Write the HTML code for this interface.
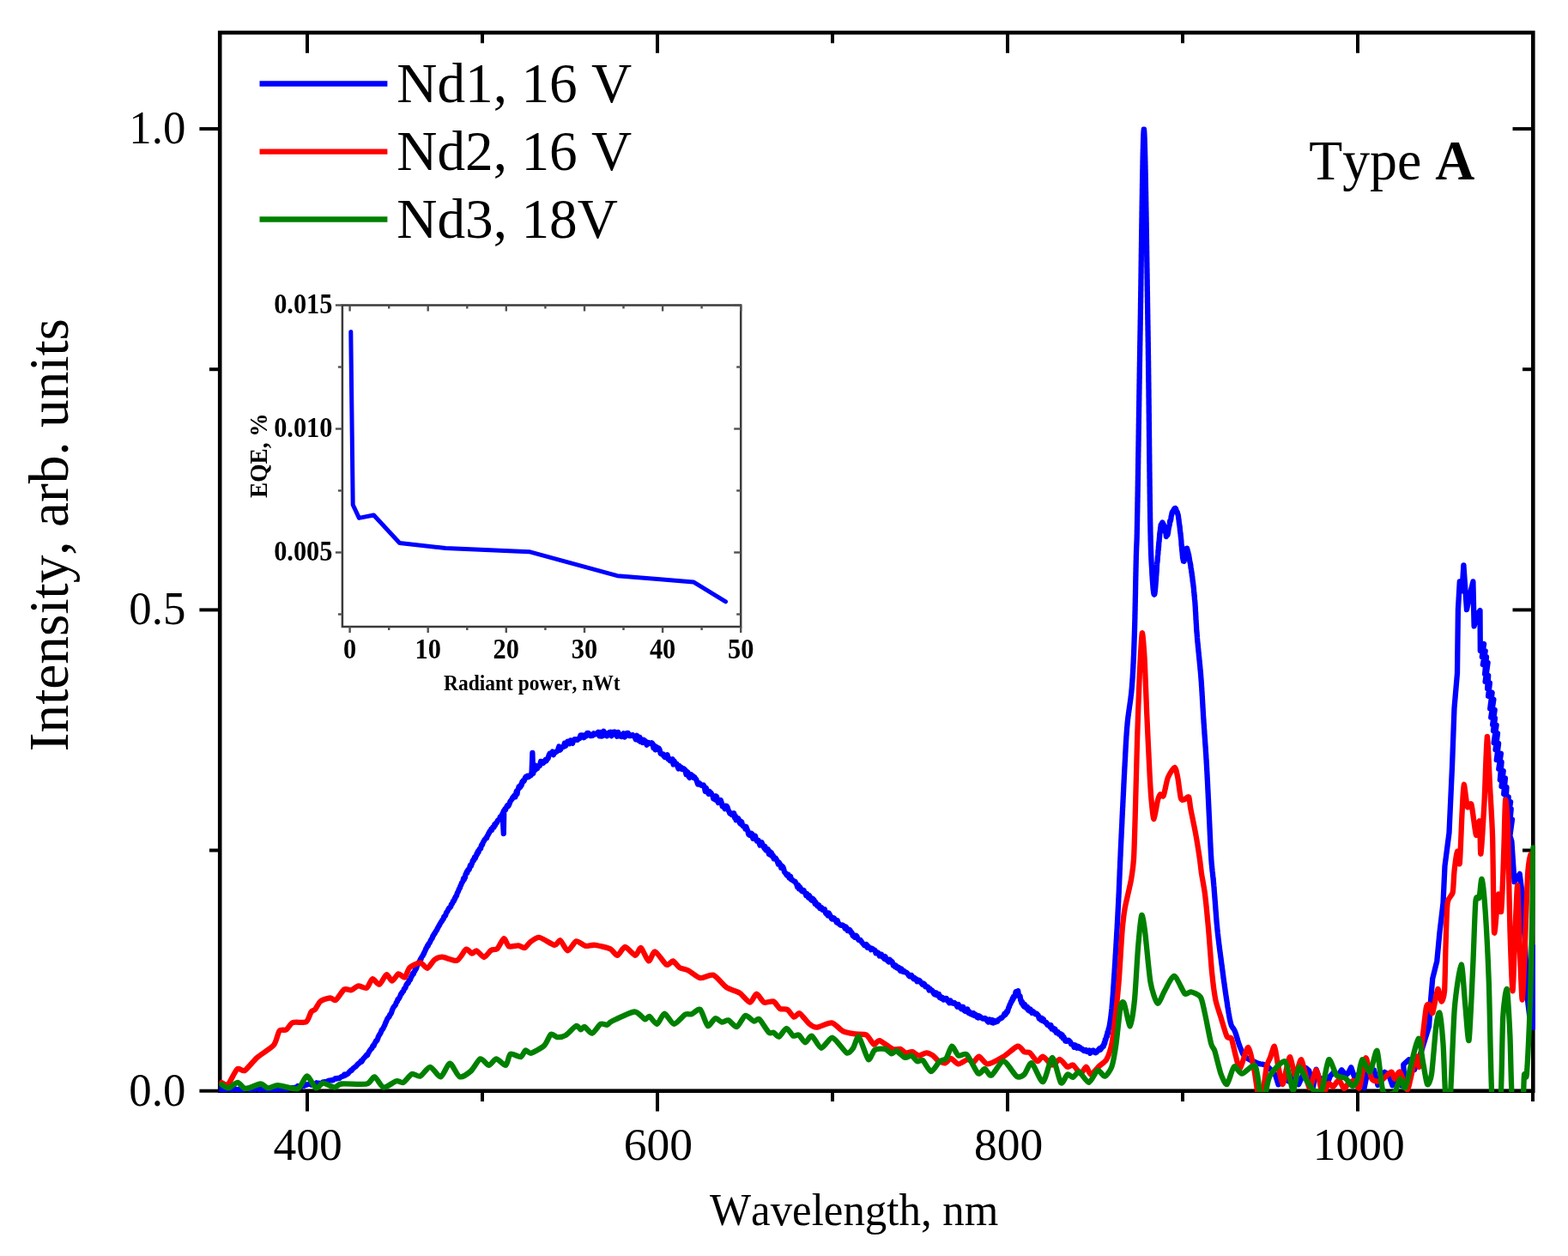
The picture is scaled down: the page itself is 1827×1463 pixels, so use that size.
<!DOCTYPE html>
<html lang="en"><head><meta charset="utf-8"><title>Electroluminescence spectra, Type A</title>
<style>html,body{margin:0;padding:0;background:#fff}svg{display:block}text{font-family:"Liberation Serif","Times New Roman",serif;fill:#000;font-kerning:none}</style></head><body>
<svg width="1827" height="1463" viewBox="0 0 1827 1463">
<rect width="1827" height="1463" fill="#fff"/>
<defs><filter id="soft" x="0" y="0" width="1827" height="1463" filterUnits="userSpaceOnUse" color-interpolation-filters="sRGB"><feGaussianBlur stdDeviation="0.6"/></filter><clipPath id="cp"><rect x="255.2" y="38.0" width="1533.7" height="1234.1"/></clipPath></defs>
<g filter="url(#soft)">
<rect width="1827" height="1463" fill="#fff"/>
<g stroke="#000" stroke-width="4.6" fill="none" stroke-linecap="butt">
<rect x="256.2" y="38.0" width="1530.1" height="1232.7"/>
</g>
<g stroke="#000" stroke-width="4.0" fill="none" stroke-linecap="butt">
<path d="M358.0,1270.7v23.8"/>
<path d="M358.0,38.0v23.8"/>
<path d="M562.0,1270.7v12.3"/>
<path d="M562.0,38.0v12.3"/>
<path d="M766.0,1270.7v23.8"/>
<path d="M766.0,38.0v23.8"/>
<path d="M970.0,1270.7v12.3"/>
<path d="M970.0,38.0v12.3"/>
<path d="M1174.0,1270.7v23.8"/>
<path d="M1174.0,38.0v23.8"/>
<path d="M1378.0,1270.7v12.3"/>
<path d="M1378.0,38.0v12.3"/>
<path d="M1582.0,1270.7v23.8"/>
<path d="M1582.0,38.0v23.8"/>
<path d="M1786.0,1270.7v12.3"/>
<path d="M1786.0,38.0v12.3"/>
<path d="M256.2,150.1h-23.8"/>
<path d="M1786.3,150.1h-23.8"/>
<path d="M256.2,430.2h-12.3"/>
<path d="M1786.3,430.2h-12.3"/>
<path d="M256.2,710.4h-23.8"/>
<path d="M1786.3,710.4h-23.8"/>
<path d="M256.2,990.5h-12.3"/>
<path d="M1786.3,990.5h-12.3"/>
<path d="M256.2,1270.7h-23.8"/>
</g>
<g clip-path="url(#cp)" fill="none" stroke-linejoin="round" stroke-linecap="round">
<path d="M256.6,1268.7L257.3,1268.4L258.1,1269.2L258.9,1268.2L259.8,1269.0L260.8,1268.7L261.9,1268.1L263.0,1268.9L264.1,1268.1L265.4,1268.7L266.6,1268.1L267.9,1268.1L269.3,1268.7L270.7,1269.4L272.1,1268.1L273.5,1268.2L275.0,1268.9L276.5,1269.5L278.0,1268.8L279.5,1268.5L281.0,1269.5L282.5,1267.8L284.1,1269.2L285.6,1268.2L287.1,1267.9L288.5,1267.8L290.0,1268.2L291.2,1269.1L292.3,1267.9L293.6,1268.6L294.8,1268.7L296.1,1268.2L297.3,1268.5L298.6,1267.7L300.0,1267.7L301.3,1267.9L302.6,1268.8L304.0,1268.3L305.4,1268.1L306.7,1268.6L308.1,1268.4L309.5,1268.1L310.9,1269.0L312.2,1268.8L313.6,1268.0L315.0,1268.6L316.3,1268.5L317.6,1269.1L319.0,1268.8L320.3,1268.0L321.6,1269.3L322.8,1267.7L324.1,1268.2L325.3,1268.8L326.5,1267.6L327.7,1268.2L328.8,1267.3L329.9,1268.4L331.0,1268.5L332.0,1268.1L333.6,1268.6L335.2,1267.4L336.7,1267.9L338.1,1267.6L339.5,1267.4L340.9,1266.9L342.2,1267.4L343.4,1267.4L344.6,1266.3L345.8,1266.5L347.0,1265.1L348.1,1266.1L349.2,1265.7L350.3,1266.1L351.4,1265.6L352.4,1264.4L353.5,1264.4L354.6,1264.7L355.6,1263.3L356.7,1263.9L358.2,1263.2L359.7,1262.8L361.1,1262.5L362.5,1263.6L363.9,1262.2L365.2,1262.2L366.5,1262.3L367.8,1262.9L369.0,1261.3L370.2,1261.8L371.4,1261.7L372.6,1262.1L373.8,1261.8L375.0,1261.7L376.3,1260.3L377.6,1260.3L378.9,1260.0L380.1,1260.7L381.3,1260.6L382.4,1258.9L383.6,1258.7L384.7,1258.5L385.9,1258.2L387.1,1258.3L388.3,1258.1L389.6,1257.1L390.7,1256.2L391.8,1256.5L393.0,1256.0L394.2,1255.9L395.3,1256.1L396.5,1255.1L397.7,1254.2L398.9,1253.8L400.1,1253.4L401.3,1251.6L402.5,1252.5L403.6,1251.5L404.8,1251.0L406.0,1250.0L407.0,1248.6L407.9,1247.9L408.9,1246.6L409.9,1246.8L410.9,1245.0L411.9,1244.1L412.9,1243.5L413.9,1242.6L414.9,1242.0L415.9,1240.6L416.8,1239.6L417.8,1238.9L418.8,1237.9L419.7,1237.4L420.6,1235.8L421.5,1236.4L422.4,1235.0L423.3,1233.2L424.1,1232.4L424.9,1231.7L425.8,1230.7L426.6,1229.3L427.4,1229.6L428.2,1228.9L428.9,1226.9L429.7,1225.9L430.5,1224.2L431.2,1223.2L431.9,1222.5L432.7,1221.3L433.4,1221.2L434.1,1218.9L434.9,1217.6L435.6,1218.1L436.2,1216.3L436.9,1214.6L437.4,1214.3L438.0,1212.4L438.6,1212.3L439.2,1212.1L439.7,1210.8L440.3,1209.5L440.8,1207.6L441.4,1206.7L441.9,1205.3L442.5,1205.2L443.1,1203.6L443.7,1202.9L444.3,1200.9L444.9,1199.5L445.6,1199.2L446.3,1198.2L447.0,1196.6L447.5,1195.6L448.0,1194.6L448.6,1193.5L449.1,1191.5L449.6,1191.0L450.2,1189.6L450.8,1188.0L451.3,1186.9L451.9,1186.2L452.5,1185.0L453.1,1184.7L453.7,1184.0L454.3,1181.9L454.9,1181.6L455.6,1180.5L456.2,1179.3L456.8,1177.0L457.4,1175.6L458.0,1174.4L458.6,1173.2L459.3,1172.1L459.9,1171.7L460.5,1171.0L461.1,1169.8L461.7,1168.0L462.3,1167.2L462.9,1166.4L463.5,1164.1L464.2,1163.9L464.8,1163.2L465.5,1161.8L466.1,1160.6L466.8,1159.0L467.4,1157.4L468.1,1157.4L468.8,1155.4L469.4,1155.2L470.1,1154.4L470.7,1152.3L471.4,1151.2L472.0,1151.1L472.7,1149.6L473.3,1147.5L474.0,1146.4L474.7,1145.3L475.3,1145.6L476.0,1144.3L476.6,1142.0L477.3,1142.1L477.9,1141.2L478.6,1139.5L479.2,1137.8L479.9,1137.0L480.5,1135.2L481.1,1133.9L481.7,1134.5L482.2,1132.9L482.8,1131.6L483.4,1131.2L484.0,1129.2L484.6,1128.8L485.2,1127.6L485.8,1125.4L486.3,1124.4L486.9,1123.3L487.5,1122.1L488.1,1121.6L488.7,1119.8L489.3,1119.0L489.9,1117.3L490.4,1117.6L491.0,1115.5L491.6,1114.5L492.2,1113.6L492.8,1113.1L493.4,1111.1L494.0,1110.9L494.5,1109.0L495.1,1107.9L495.7,1106.8L496.3,1104.8L496.9,1104.5L497.5,1102.9L498.1,1101.4L498.7,1101.8L499.3,1099.5L499.9,1098.9L500.6,1098.3L501.2,1096.9L501.8,1095.3L502.4,1094.6L503.0,1093.5L503.6,1092.9L504.2,1090.5L504.8,1090.3L505.4,1088.6L506.0,1087.6L506.6,1087.4L507.2,1085.8L507.8,1084.8L508.4,1084.1L509.1,1083.3L509.7,1081.4L510.3,1080.6L510.9,1079.3L511.5,1078.3L512.1,1077.5L512.7,1076.0L513.4,1075.0L514.0,1073.8L514.7,1073.5L515.3,1071.9L516.0,1071.1L516.7,1070.2L517.3,1067.8L518.0,1067.3L518.7,1066.9L519.3,1065.6L520.0,1063.2L520.7,1062.1L521.3,1061.6L522.0,1059.8L522.7,1059.0L523.3,1057.6L524.0,1057.6L524.6,1056.7L525.3,1055.8L525.9,1053.3L526.6,1053.2L527.2,1052.0L527.8,1049.9L528.5,1050.1L529.1,1049.0L529.7,1046.6L530.2,1046.8L530.8,1044.7L531.3,1043.8L531.8,1043.6L532.3,1042.2L532.9,1039.9L533.4,1039.3L533.9,1038.4L534.4,1037.0L534.9,1035.6L535.4,1034.7L535.9,1034.3L536.4,1031.9L536.9,1031.7L537.4,1030.4L537.9,1028.4L538.4,1027.8L539.0,1027.2L539.5,1025.8L540.1,1023.2L540.7,1024.8L541.3,1023.0L541.9,1022.3L542.5,1018.4L543.1,1017.6L543.8,1015.6L544.3,1016.8L544.8,1014.3L545.4,1012.9L545.9,1012.7L546.5,1013.1L547.0,1011.8L547.6,1009.0L548.2,1007.6L548.8,1008.8L549.4,1006.7L550.0,1006.0L550.6,1003.0L551.2,1001.8L551.8,1002.5L552.4,1000.6L553.0,998.4L553.7,999.9L554.3,997.8L554.9,997.2L555.6,993.9L556.2,995.0L556.9,991.5L557.5,992.8L558.1,990.4L558.8,988.9L559.4,988.5L560.1,988.5L560.7,985.4L561.3,983.9L562.0,984.0L562.6,982.0L563.2,980.6L563.9,979.7L564.5,978.3L565.1,977.7L565.7,977.0L566.4,975.9L567.1,976.1L567.8,973.5L568.5,973.0L569.2,971.0L569.9,970.4L570.6,968.3L571.4,967.9L572.1,966.1L572.8,967.2L573.5,965.6L574.2,963.5L574.9,963.3L575.6,963.6L576.3,960.1L577.0,961.2L577.7,959.0L578.4,958.2L579.1,958.2L579.8,955.8L580.5,955.2L581.2,954.7L581.9,954.5L582.7,951.6L583.4,952.0L584.1,950.6L584.8,949.4L585.5,947.7L586.8,971.0L587.2,947.7L586.2,946.4L586.9,944.5L587.6,943.7L588.3,942.4L589.0,943.4L589.8,940.8L590.5,939.4L591.3,938.0L592.0,939.2L592.8,938.1L593.5,936.4L594.3,934.0L595.1,932.7L595.8,931.7L596.6,931.1L597.3,929.0L598.1,928.7L598.9,927.0L599.6,928.0L600.4,928.3L601.1,924.6L601.8,921.7L602.5,925.0L603.2,920.0L603.9,919.2L604.6,916.1L605.3,917.4L606.0,917.0L606.6,916.2L607.2,913.5L607.8,914.4L608.4,910.6L609.0,911.3L609.5,909.5L610.7,909.7L611.8,906.1L612.8,904.7L613.7,905.3L614.5,903.9L615.3,905.1L616.0,903.9L616.7,904.5L617.4,903.1L618.1,902.8L618.8,903.0L619.6,899.2L620.4,877.0L621.0,899.2L620.4,898.0L621.3,900.9L622.1,895.0L622.9,897.6L623.7,896.3L624.4,891.8L625.2,895.7L626.0,895.2L626.9,892.8L627.9,892.5L628.9,892.0L630.1,886.9L631.4,888.1L632.2,887.4L633.0,888.7L633.8,887.8L634.7,887.2L635.6,885.0L636.6,886.1L637.6,884.0L638.6,883.3L639.6,879.7L640.6,877.7L641.7,877.5L642.7,878.0L643.8,875.6L644.9,879.2L646.0,876.7L647.0,876.4L648.1,875.6L649.2,875.1L650.2,873.2L651.3,869.6L652.3,873.7L653.3,872.7L654.5,870.5L655.6,869.9L656.8,869.9L657.9,865.6L659.1,868.9L660.2,865.3L661.4,863.6L662.5,864.0L663.7,866.2L664.8,862.4L666.0,865.0L667.1,865.8L668.3,862.3L669.4,861.1L670.6,861.1L671.7,861.8L672.9,861.8L674.0,860.4L675.2,860.2L676.5,856.3L677.8,856.3L679.1,856.6L680.3,859.1L681.6,856.2L682.9,857.5L684.2,853.8L685.5,853.9L686.7,854.9L688.0,857.1L689.3,857.0L690.6,856.8L691.9,854.3L693.1,855.5L694.4,855.1L695.7,854.9L697.0,852.7L698.3,857.2L699.6,853.0L700.9,857.6L702.1,857.2L703.4,851.7L704.7,854.3L706.0,856.4L707.3,857.3L708.6,854.2L709.9,853.1L711.2,852.8L712.5,857.2L713.7,852.9L715.0,855.2L716.3,852.6L717.6,855.0L718.9,857.7L720.2,852.9L721.5,857.2L722.8,855.5L724.1,857.9L725.3,857.0L726.6,854.3L727.9,858.5L729.2,856.3L730.5,853.8L731.8,853.9L733.1,857.1L734.4,857.1L735.6,856.6L736.9,855.9L738.2,857.5L739.5,857.8L740.8,861.3L742.0,856.7L743.1,861.6L744.3,862.6L745.4,858.7L746.6,864.0L747.7,863.2L748.9,864.9L750.0,861.7L751.2,862.8L752.3,863.4L753.5,867.7L754.6,865.8L755.8,865.0L756.9,866.1L758.1,865.8L759.2,865.1L760.4,866.1L761.5,871.3L762.7,868.7L763.7,873.3L764.7,869.9L765.7,870.7L766.7,872.9L767.7,871.7L768.7,873.6L769.7,877.9L770.7,878.3L771.7,878.7L772.7,878.5L773.7,881.0L774.6,882.0L775.6,880.5L776.6,882.4L777.6,879.3L778.6,884.2L779.6,883.4L780.6,886.1L781.6,886.3L782.6,885.0L783.6,884.4L784.6,890.5L785.6,886.5L786.6,889.3L787.6,889.4L788.6,889.9L789.6,893.3L790.6,895.5L791.6,892.0L792.6,895.1L793.6,893.8L794.6,896.1L795.5,895.9L796.5,895.3L797.5,896.1L798.5,897.1L799.5,902.1L800.5,900.5L801.5,899.6L802.5,904.5L803.5,905.9L804.5,903.4L805.5,902.4L806.5,903.6L807.5,903.8L808.4,906.1L809.4,905.4L810.3,907.1L811.3,908.1L812.2,910.8L813.2,913.6L814.1,913.6L815.1,912.4L816.0,913.3L817.0,914.8L817.9,914.8L818.9,915.4L819.8,914.7L820.8,916.8L821.7,921.8L822.7,917.7L823.6,920.8L824.6,922.4L825.5,924.7L826.5,921.7L827.4,922.9L828.4,923.6L829.4,925.4L830.3,926.5L831.3,930.4L832.2,930.6L833.2,931.5L834.1,927.3L835.1,928.1L836.0,933.0L837.0,935.0L837.9,933.3L838.9,934.8L839.8,932.1L840.8,935.3L841.7,939.3L842.7,939.6L843.6,940.6L844.6,942.2L845.5,938.7L846.5,938.8L847.4,939.9L848.4,943.1L849.3,944.9L850.3,947.4L851.1,947.0L852.0,947.4L852.8,949.0L853.6,948.0L854.4,949.4L855.2,947.2L856.0,952.6L856.8,950.2L857.6,955.2L858.5,954.5L859.3,953.3L860.1,953.2L860.9,954.9L861.7,958.1L862.5,959.4L863.3,956.8L864.2,957.5L865.0,961.2L865.9,962.5L866.7,962.3L867.6,962.3L868.5,965.6L869.4,963.0L870.3,965.7L871.3,967.7L872.2,971.7L873.0,970.6L873.8,972.9L874.7,971.3L875.5,970.7L876.4,971.6L877.3,976.8L878.2,976.1L879.1,974.6L880.0,973.8L880.9,977.5L881.9,979.5L882.8,978.9L883.7,978.8L884.7,982.1L885.6,984.6L886.6,981.3L887.5,981.1L888.5,983.8L889.4,985.2L890.3,987.7L891.3,985.7L892.2,990.2L893.1,990.7L894.0,990.2L894.9,989.4L895.8,994.8L896.7,991.8L897.5,995.7L898.4,993.1L899.2,993.9L900.0,997.5L900.9,996.7L901.8,1000.4L902.7,999.6L903.6,999.4L904.4,1000.5L905.3,1002.4L906.1,1004.4L906.9,1006.6L907.7,1004.4L908.5,1006.4L909.3,1006.8L910.1,1010.8L910.9,1008.6L911.7,1009.2L912.5,1010.3L913.3,1012.7L914.0,1015.7L914.8,1016.6L915.6,1017.0L916.4,1019.1L917.1,1019.8L917.9,1018.4L918.7,1018.8L919.5,1022.7L920.3,1022.9L921.1,1021.0L921.9,1024.5L922.8,1024.3L923.7,1025.3L924.6,1026.1L925.5,1026.5L926.5,1026.8L927.4,1028.8L928.3,1030.1L929.2,1033.4L930.1,1031.0L931.0,1035.3L931.9,1033.2L932.8,1034.7L933.8,1037.4L934.7,1038.3L935.6,1037.6L936.5,1037.0L937.4,1039.5L938.3,1040.0L939.2,1043.1L940.1,1041.0L941.1,1042.6L942.0,1045.6L942.9,1043.0L943.8,1045.3L944.8,1047.8L945.7,1048.6L946.7,1046.6L947.6,1047.4L948.6,1048.4L949.5,1052.7L950.5,1051.0L951.4,1053.8L952.4,1055.3L953.3,1053.9L954.3,1054.5L955.2,1058.1L956.2,1057.6L957.1,1057.0L958.1,1059.7L959.0,1058.9L960.0,1059.6L960.9,1059.3L961.9,1063.2L962.8,1064.6L963.8,1064.3L964.7,1066.4L965.7,1063.5L966.7,1065.2L967.7,1067.0L968.7,1069.7L969.7,1070.5L970.7,1069.1L971.7,1069.3L972.7,1070.8L973.7,1071.9L974.7,1074.4L975.7,1072.2L976.7,1075.4L977.6,1075.9L978.6,1077.1L979.6,1077.6L980.6,1077.8L981.6,1077.4L982.6,1078.2L983.6,1079.1L984.6,1081.6L985.6,1079.6L986.6,1080.9L987.6,1083.9L988.6,1082.7L989.6,1082.8L990.6,1083.6L991.6,1086.5L992.6,1086.4L993.6,1089.9L994.6,1090.4L995.6,1091.7L996.6,1089.7L997.6,1089.9L998.5,1090.8L999.5,1093.3L1000.5,1095.0L1001.5,1094.8L1002.5,1094.8L1003.5,1096.4L1004.5,1098.0L1005.5,1099.1L1006.5,1100.2L1007.5,1101.4L1008.5,1101.4L1009.5,1100.0L1010.6,1103.7L1011.7,1102.3L1012.8,1104.1L1013.9,1104.1L1015.0,1106.3L1016.1,1104.8L1017.2,1105.7L1018.3,1106.4L1019.4,1106.7L1020.5,1110.3L1021.5,1109.7L1022.6,1109.4L1023.7,1110.3L1024.8,1113.4L1025.9,1112.1L1027.0,1111.7L1028.1,1114.7L1029.2,1114.8L1030.3,1116.9L1031.4,1114.1L1032.4,1116.3L1033.5,1118.5L1034.5,1119.3L1035.6,1120.4L1036.6,1117.7L1037.7,1119.5L1038.7,1119.6L1039.7,1120.7L1040.8,1124.6L1041.8,1123.9L1042.9,1126.1L1043.9,1124.7L1045.0,1127.4L1046.0,1126.6L1047.0,1126.6L1048.1,1129.5L1049.1,1130.9L1050.2,1128.4L1051.2,1131.1L1052.3,1131.9L1053.3,1131.1L1054.4,1132.4L1055.5,1132.3L1056.6,1133.3L1057.7,1134.2L1058.8,1136.3L1059.9,1137.2L1061.0,1136.1L1062.1,1136.0L1063.2,1138.0L1064.3,1140.1L1065.4,1138.8L1066.4,1140.0L1067.5,1140.3L1068.6,1143.3L1069.7,1143.0L1070.8,1141.8L1071.9,1142.6L1073.0,1144.5L1074.1,1145.9L1075.2,1147.0L1076.2,1145.5L1077.3,1146.5L1078.3,1149.3L1079.4,1148.9L1080.4,1149.2L1081.4,1150.0L1082.5,1153.4L1083.5,1151.6L1084.5,1153.4L1085.6,1153.3L1086.6,1154.3L1087.7,1156.8L1088.7,1158.1L1089.7,1156.3L1090.8,1156.4L1091.8,1159.2L1092.8,1157.9L1093.9,1157.8L1094.9,1162.0L1096.0,1160.8L1097.0,1163.0L1098.2,1162.0L1099.3,1164.6L1100.5,1163.5L1101.6,1162.9L1102.8,1162.9L1103.9,1165.7L1105.1,1166.6L1106.2,1168.2L1107.4,1165.5L1108.5,1168.2L1109.7,1167.7L1110.8,1168.8L1112.0,1167.9L1113.1,1169.0L1114.3,1170.5L1115.4,1172.7L1116.6,1170.0L1117.7,1172.1L1118.9,1173.9L1120.1,1175.2L1121.2,1172.7L1122.4,1173.1L1123.6,1177.0L1124.8,1177.9L1126.0,1176.6L1127.2,1175.5L1128.3,1179.7L1129.5,1178.3L1130.7,1181.0L1131.9,1180.5L1133.1,1182.0L1134.2,1180.0L1135.4,1183.1L1136.5,1181.5L1137.6,1182.8L1138.7,1185.1L1139.8,1185.5L1140.8,1183.4L1142.2,1184.2L1143.6,1185.5L1145.0,1186.6L1146.4,1186.6L1147.8,1186.0L1149.1,1187.0L1150.4,1189.4L1151.7,1190.5L1153.0,1187.4L1154.1,1189.8L1155.3,1190.8L1156.4,1188.1L1157.4,1191.5L1158.3,1188.7L1159.9,1190.5L1161.3,1189.9L1162.4,1189.6L1163.4,1187.6L1164.2,1187.2L1165.1,1187.0L1166.0,1185.7L1167.3,1185.8L1168.4,1184.2L1169.5,1183.3L1170.5,1180.7L1171.5,1181.9L1172.2,1180.4L1172.9,1178.2L1173.5,1179.2L1174.1,1178.0L1174.8,1175.4L1175.4,1173.0L1176.0,1172.9L1176.5,1170.3L1177.0,1169.3L1177.5,1169.3L1178.0,1166.8L1178.5,1167.1L1179.1,1166.2L1179.6,1163.2L1180.2,1164.4L1180.8,1161.0L1181.5,1162.1L1182.2,1160.8L1182.9,1158.2L1183.6,1155.1L1184.3,1155.8L1185.0,1154.8L1185.7,1157.0L1186.2,1154.1L1186.7,1157.8L1187.2,1159.4L1187.6,1159.6L1188.1,1161.3L1188.6,1160.3L1189.1,1165.0L1189.6,1164.6L1190.1,1167.8L1190.7,1168.9L1191.2,1167.0L1192.1,1170.7L1193.0,1172.4L1193.9,1169.9L1194.9,1171.9L1195.9,1174.3L1196.9,1172.7L1198.0,1176.6L1198.9,1174.8L1199.7,1177.6L1200.5,1175.5L1201.3,1177.5L1202.3,1179.9L1203.4,1177.9L1204.8,1179.1L1206.5,1181.4L1207.2,1181.2L1208.0,1180.7L1208.8,1182.0L1209.7,1182.6L1210.7,1186.4L1211.6,1186.1L1212.6,1187.8L1213.7,1185.7L1214.7,1189.0L1215.8,1187.2L1216.9,1189.7L1218.0,1191.0L1219.1,1190.8L1220.2,1193.7L1221.3,1193.3L1222.4,1194.3L1223.5,1196.4L1224.5,1194.1L1225.5,1198.5L1226.5,1197.9L1227.5,1197.7L1228.4,1200.1L1229.5,1198.9L1230.5,1202.7L1231.6,1202.0L1232.6,1202.0L1233.6,1204.6L1234.6,1204.2L1235.6,1204.1L1236.6,1207.2L1237.6,1205.3L1238.5,1209.3L1239.5,1207.9L1240.4,1210.3L1241.3,1212.5L1242.2,1211.7L1243.2,1212.8L1244.1,1212.1L1245.0,1211.6L1245.9,1212.4L1247.1,1213.7L1248.2,1216.4L1249.4,1216.5L1250.5,1217.5L1251.6,1219.8L1252.7,1217.4L1253.8,1218.4L1254.9,1220.7L1255.9,1218.8L1257.0,1219.2L1258.1,1221.1L1259.1,1220.6L1260.2,1222.0L1261.2,1221.9L1262.5,1223.8L1263.8,1224.2L1265.2,1223.0L1266.5,1225.0L1267.8,1224.7L1269.1,1223.5L1270.3,1226.8L1271.5,1224.1L1272.7,1223.8L1273.8,1223.5L1274.9,1225.6L1276.3,1226.3L1277.6,1225.7L1278.8,1223.8L1279.9,1222.8L1281.0,1221.2L1282.0,1222.9L1283.1,1221.5L1284.1,1219.3L1284.6,1219.7L1285.2,1217.9L1285.7,1218.9L1286.2,1217.1L1286.8,1214.0L1287.3,1215.5L1287.8,1210.8L1288.3,1211.5L1288.7,1209.7L1289.2,1207.6L1289.7,1205.5L1290.1,1206.9L1290.5,1202.4L1290.9,1203.1L1291.3,1203.2L1291.6,1198.9L1291.8,1198.0L1292.1,1198.2L1292.3,1197.1L1292.5,1195.9L1292.7,1194.8L1292.9,1193.7L1293.1,1192.5L1293.3,1191.3L1293.5,1190.1L1293.7,1188.9L1293.9,1187.6L1294.1,1186.3L1294.2,1185.0L1294.4,1183.7L1294.6,1182.3L1294.7,1180.9L1294.9,1179.4L1295.1,1177.9L1295.2,1176.4L1295.4,1174.8L1295.5,1173.7L1295.6,1172.7L1295.7,1171.6L1295.8,1170.4L1295.9,1169.3L1296.0,1168.2L1296.1,1167.0L1296.2,1165.8L1296.3,1164.6L1296.4,1163.4L1296.5,1162.2L1296.6,1160.9L1296.7,1159.7L1296.8,1158.4L1296.9,1157.1L1297.0,1155.8L1297.1,1154.5L1297.1,1153.2L1297.2,1151.9L1297.3,1150.6L1297.4,1149.2L1297.5,1147.9L1297.6,1146.5L1297.7,1145.1L1297.8,1143.7L1297.8,1142.3L1297.9,1140.9L1298.0,1139.5L1298.1,1138.1L1298.2,1136.7L1298.3,1135.2L1298.4,1133.8L1298.5,1132.7L1298.6,1131.5L1298.6,1130.3L1298.7,1129.2L1298.8,1128.0L1298.9,1126.7L1298.9,1125.5L1299.0,1124.3L1299.1,1123.0L1299.2,1121.8L1299.3,1120.5L1299.3,1119.2L1299.4,1117.9L1299.5,1116.7L1299.6,1115.4L1299.6,1114.0L1299.7,1112.7L1299.8,1111.4L1299.9,1110.1L1300.0,1108.8L1300.0,1107.5L1300.1,1106.2L1300.2,1104.9L1300.3,1103.6L1300.4,1102.3L1300.4,1100.9L1300.5,1099.6L1300.6,1098.4L1300.7,1097.1L1300.7,1095.8L1300.8,1094.5L1300.9,1093.3L1301.0,1092.0L1301.0,1090.8L1301.1,1089.6L1301.2,1088.3L1301.2,1087.1L1301.3,1086.0L1301.4,1084.8L1301.4,1083.6L1301.5,1082.5L1301.6,1081.1L1301.7,1079.7L1301.7,1078.3L1301.8,1077.0L1301.9,1075.6L1302.0,1074.3L1302.0,1073.0L1302.1,1071.8L1302.2,1070.5L1302.2,1069.3L1302.3,1068.1L1302.4,1066.8L1302.4,1065.6L1302.5,1064.4L1302.5,1063.2L1302.6,1062.0L1302.7,1060.8L1302.7,1059.6L1302.8,1058.4L1302.8,1057.2L1302.9,1056.0L1303.0,1054.7L1303.0,1053.5L1303.1,1052.2L1303.2,1051.0L1303.2,1049.7L1303.3,1048.4L1303.3,1047.1L1303.4,1045.7L1303.5,1044.3L1303.5,1042.9L1303.6,1041.5L1303.7,1040.4L1303.7,1039.3L1303.8,1038.2L1303.8,1037.1L1303.8,1036.0L1303.9,1035.0L1303.9,1033.9L1304.0,1032.8L1304.0,1031.8L1304.1,1030.7L1304.1,1029.7L1304.2,1028.6L1304.2,1027.6L1304.2,1026.5L1304.3,1025.5L1304.3,1024.4L1304.4,1023.3L1304.4,1022.2L1304.5,1021.1L1304.5,1020.0L1304.6,1018.8L1304.6,1017.7L1304.6,1016.5L1304.7,1015.3L1304.7,1014.0L1304.8,1012.8L1304.9,1011.5L1304.9,1010.2L1305.0,1008.9L1305.0,1007.5L1305.1,1006.1L1305.1,1004.7L1305.2,1003.2L1305.3,1001.7L1305.3,1000.2L1305.4,998.6L1305.5,997.0L1305.6,995.3L1305.6,993.6L1305.7,991.8L1305.8,990.0L1305.8,989.0L1305.9,988.0L1305.9,987.0L1306.0,986.0L1306.0,985.0L1306.1,983.9L1306.1,982.8L1306.2,981.7L1306.2,980.5L1306.3,979.4L1306.3,978.2L1306.4,977.0L1306.5,975.8L1306.5,974.6L1306.6,973.4L1306.6,972.1L1306.7,970.9L1306.8,969.6L1306.8,968.3L1306.9,967.0L1306.9,965.7L1307.0,964.4L1307.1,963.1L1307.1,961.7L1307.2,960.4L1307.3,959.0L1307.3,957.7L1307.4,956.3L1307.4,954.9L1307.5,953.5L1307.6,952.1L1307.6,950.7L1307.7,949.3L1307.8,947.9L1307.8,946.5L1307.9,945.1L1308.0,943.7L1308.0,942.3L1308.1,940.9L1308.2,939.5L1308.3,938.1L1308.3,936.7L1308.4,935.3L1308.5,933.8L1308.5,932.4L1308.6,931.0L1308.7,929.6L1308.7,928.3L1308.8,926.9L1308.9,925.5L1308.9,924.1L1309.0,922.8L1309.1,921.4L1309.1,920.0L1309.2,918.7L1309.3,917.4L1309.3,916.1L1309.4,914.7L1309.4,913.4L1309.5,912.2L1309.6,910.9L1309.6,909.6L1309.7,908.4L1309.8,907.1L1309.8,905.9L1309.9,904.7L1309.9,903.5L1310.0,902.4L1310.1,901.2L1310.1,900.1L1310.2,899.0L1310.2,897.9L1310.3,896.8L1310.3,895.7L1310.4,894.7L1310.4,893.7L1310.5,892.7L1310.6,891.7L1310.6,890.8L1310.7,888.9L1310.8,887.1L1310.9,885.3L1311.0,883.6L1311.1,881.9L1311.2,880.3L1311.2,878.7L1311.3,877.2L1311.4,875.8L1311.5,874.3L1311.5,873.0L1311.6,871.6L1311.7,870.3L1311.7,869.1L1311.8,867.8L1311.9,866.6L1311.9,865.5L1312.0,864.3L1312.1,863.2L1312.1,862.1L1312.2,861.0L1312.3,859.9L1312.3,858.8L1312.4,857.8L1312.5,856.7L1312.6,855.7L1312.6,854.7L1312.7,853.6L1312.8,852.6L1312.9,851.5L1312.9,850.5L1313.0,849.4L1313.1,848.3L1313.2,847.3L1313.3,846.1L1313.4,845.0L1313.5,843.9L1313.6,842.7L1313.7,841.3L1313.9,840.0L1314.0,838.7L1314.1,837.4L1314.3,836.2L1314.4,834.9L1314.6,833.7L1314.8,832.5L1314.9,831.3L1315.1,830.1L1315.3,828.9L1315.4,827.7L1315.6,826.5L1315.8,825.4L1315.9,824.2L1316.1,823.0L1316.3,821.8L1316.5,820.6L1316.6,819.4L1316.8,818.2L1317.0,817.0L1317.1,815.7L1317.3,814.5L1317.5,813.2L1317.6,811.9L1317.8,810.6L1318.0,809.3L1318.1,807.9L1318.3,806.5L1318.4,805.1L1318.5,803.6L1318.7,802.1L1318.8,800.6L1318.9,799.5L1319.0,798.5L1319.0,797.4L1319.1,796.3L1319.2,795.2L1319.3,794.2L1319.4,793.1L1319.4,792.0L1319.5,790.9L1319.6,789.8L1319.7,788.7L1319.7,787.5L1319.8,786.4L1319.9,785.3L1319.9,784.2L1320.0,783.0L1320.1,781.9L1320.1,780.7L1320.2,779.5L1320.3,778.4L1320.3,777.2L1320.4,776.0L1320.4,774.8L1320.5,773.6L1320.6,772.3L1320.6,771.1L1320.7,769.9L1320.7,768.6L1320.8,767.3L1320.8,766.0L1320.9,764.7L1321.0,763.4L1321.0,762.1L1321.1,760.8L1321.1,759.4L1321.2,758.1L1321.2,756.7L1321.3,755.3L1321.3,753.9L1321.4,752.5L1321.4,751.0L1321.5,749.6L1321.5,748.1L1321.6,746.6L1321.6,745.1L1321.7,743.6L1321.7,742.1L1321.8,740.5L1321.8,739.4L1321.9,738.4L1321.9,737.3L1321.9,736.2L1322.0,735.0L1322.0,733.9L1322.0,732.7L1322.1,731.6L1322.1,730.4L1322.1,729.2L1322.2,728.0L1322.2,726.7L1322.2,725.5L1322.3,724.2L1322.3,723.0L1322.3,721.7L1322.4,720.4L1322.4,719.1L1322.4,717.8L1322.4,716.5L1322.5,715.2L1322.5,713.8L1322.5,712.5L1322.6,711.2L1322.6,709.8L1322.6,708.4L1322.6,707.1L1322.7,705.7L1322.7,704.4L1322.7,703.0L1322.8,701.6L1322.8,700.2L1322.8,698.9L1322.8,697.5L1322.9,696.1L1322.9,694.7L1322.9,693.4L1323.0,692.0L1323.0,690.6L1323.0,689.2L1323.0,687.9L1323.1,686.5L1323.1,685.2L1323.1,683.8L1323.1,682.5L1323.2,681.1L1323.2,679.8L1323.2,678.4L1323.2,677.1L1323.3,675.8L1323.3,674.5L1323.3,673.2L1323.3,671.9L1323.4,670.7L1323.4,669.4L1323.4,668.2L1323.4,666.9L1323.5,665.7L1323.5,664.5L1323.5,663.3L1323.5,662.1L1323.6,660.9L1323.6,659.8L1323.6,658.6L1323.6,657.5L1323.7,656.4L1323.7,655.3L1323.7,654.3L1323.7,653.2L1323.8,652.2L1323.8,651.2L1323.8,650.2L1323.8,648.5L1323.9,647.0L1323.9,645.6L1324.0,644.3L1324.0,643.2L1324.0,642.1L1324.1,641.1L1324.1,640.3L1324.1,639.5L1324.1,638.8L1324.2,638.1L1324.2,637.5L1324.2,636.9L1324.3,636.3L1324.3,635.8L1324.3,635.3L1324.3,634.8L1324.4,634.2L1324.4,633.7L1324.4,633.1L1324.4,632.5L1324.5,631.8L1324.5,631.0L1324.5,630.2L1324.6,629.4L1324.6,628.4L1324.6,627.3L1324.7,626.1L1324.7,624.8L1324.7,623.4L1324.8,621.8L1324.8,620.1L1324.8,618.3L1324.9,616.2L1324.9,614.0L1325.0,611.6L1325.0,609.0L1325.1,606.2L1325.1,603.2L1325.2,600.0L1325.2,599.2L1325.2,598.4L1325.2,597.6L1325.3,596.8L1325.3,596.0L1325.3,595.2L1325.3,594.3L1325.3,593.5L1325.3,592.6L1325.3,591.8L1325.4,590.9L1325.4,590.0L1325.4,589.1L1325.4,588.2L1325.4,587.3L1325.4,586.4L1325.4,585.4L1325.5,584.5L1325.5,583.5L1325.5,582.6L1325.5,581.6L1325.5,580.6L1325.5,579.6L1325.6,578.6L1325.6,577.6L1325.6,576.6L1325.6,575.6L1325.6,574.6L1325.6,573.5L1325.7,572.5L1325.7,571.4L1325.7,570.4L1325.7,569.3L1325.7,568.2L1325.7,567.1L1325.8,566.0L1325.8,564.9L1325.8,563.8L1325.8,562.7L1325.8,561.6L1325.8,560.5L1325.9,559.3L1325.9,558.2L1325.9,557.0L1325.9,555.9L1325.9,554.7L1326.0,553.5L1326.0,552.4L1326.0,551.2L1326.0,550.0L1326.0,548.8L1326.0,547.6L1326.1,546.4L1326.1,545.2L1326.1,544.0L1326.1,542.7L1326.1,541.5L1326.2,540.3L1326.2,539.0L1326.2,537.8L1326.2,536.5L1326.2,535.3L1326.2,534.0L1326.3,532.7L1326.3,531.4L1326.3,530.2L1326.3,528.9L1326.3,527.6L1326.4,526.3L1326.4,525.0L1326.4,523.7L1326.4,522.4L1326.4,521.1L1326.5,519.8L1326.5,518.4L1326.5,517.1L1326.5,515.8L1326.5,514.5L1326.6,513.1L1326.6,511.8L1326.6,510.5L1326.6,509.1L1326.6,507.8L1326.7,506.4L1326.7,505.0L1326.7,503.7L1326.7,502.3L1326.7,501.0L1326.8,499.6L1326.8,498.2L1326.8,496.8L1326.8,495.5L1326.8,494.1L1326.9,492.7L1326.9,491.3L1326.9,489.9L1326.9,488.6L1326.9,487.2L1327.0,485.8L1327.0,484.4L1327.0,483.0L1327.0,481.6L1327.0,480.2L1327.1,478.8L1327.1,477.4L1327.1,476.0L1327.1,474.6L1327.2,473.2L1327.2,471.8L1327.2,470.3L1327.2,468.9L1327.2,467.5L1327.3,466.1L1327.3,464.7L1327.3,463.3L1327.3,461.9L1327.3,460.5L1327.4,459.0L1327.4,457.6L1327.4,456.2L1327.4,454.8L1327.5,453.4L1327.5,452.0L1327.5,450.6L1327.5,449.1L1327.5,447.7L1327.6,446.3L1327.6,444.9L1327.6,443.5L1327.6,442.1L1327.7,440.7L1327.7,439.3L1327.7,437.9L1327.7,436.4L1327.7,435.0L1327.8,433.6L1327.8,432.2L1327.8,430.8L1327.8,429.4L1327.8,428.0L1327.9,426.6L1327.9,425.2L1327.9,423.8L1327.9,422.4L1328.0,421.1L1328.0,419.7L1328.0,418.3L1328.0,416.9L1328.0,415.5L1328.1,414.1L1328.1,412.8L1328.1,411.4L1328.1,410.0L1328.2,408.6L1328.2,407.3L1328.2,405.9L1328.2,404.6L1328.2,403.2L1328.3,401.8L1328.3,400.5L1328.3,399.1L1328.3,397.8L1328.4,396.5L1328.4,395.1L1328.4,393.8L1328.4,392.5L1328.4,391.1L1328.5,389.8L1328.5,388.5L1328.5,387.2L1328.5,385.9L1328.6,384.6L1328.6,383.3L1328.6,382.0L1328.6,380.8L1328.6,379.5L1328.7,378.3L1328.7,377.0L1328.7,375.8L1328.7,374.5L1328.7,373.2L1328.8,371.8L1328.8,370.5L1328.8,369.2L1328.8,367.8L1328.9,366.5L1328.9,365.1L1328.9,363.7L1328.9,362.3L1328.9,360.9L1329.0,359.5L1329.0,358.0L1329.0,356.6L1329.0,355.1L1329.0,353.7L1329.1,352.2L1329.1,350.7L1329.1,349.2L1329.1,347.8L1329.2,346.2L1329.2,344.7L1329.2,343.2L1329.2,341.7L1329.2,340.1L1329.3,338.6L1329.3,337.0L1329.3,335.5L1329.3,333.9L1329.4,332.3L1329.4,330.8L1329.4,329.2L1329.4,327.6L1329.4,326.0L1329.5,324.4L1329.5,322.8L1329.5,321.2L1329.5,319.5L1329.6,317.9L1329.6,316.3L1329.6,314.7L1329.6,313.0L1329.6,311.4L1329.7,309.7L1329.7,308.1L1329.7,306.4L1329.7,304.8L1329.8,303.1L1329.8,301.5L1329.8,299.8L1329.8,298.2L1329.8,296.5L1329.9,294.8L1329.9,293.2L1329.9,291.5L1329.9,289.8L1330.0,288.2L1330.0,286.5L1330.0,284.8L1330.0,283.2L1330.1,281.5L1330.1,279.8L1330.1,278.2L1330.1,276.5L1330.1,274.8L1330.2,273.2L1330.2,271.5L1330.2,269.8L1330.2,268.2L1330.3,266.5L1330.3,264.9L1330.3,263.2L1330.3,261.6L1330.4,259.9L1330.4,258.3L1330.4,256.7L1330.4,255.0L1330.5,253.4L1330.5,251.8L1330.5,250.2L1330.5,248.6L1330.5,247.0L1330.6,245.4L1330.6,243.8L1330.6,242.2L1330.6,240.6L1330.7,239.0L1330.7,237.4L1330.7,235.9L1330.7,234.3L1330.8,232.8L1330.8,231.2L1330.8,229.7L1330.8,228.1L1330.9,226.6L1330.9,225.1L1330.9,223.6L1330.9,222.1L1330.9,220.6L1331.0,219.1L1331.0,217.7L1331.0,216.2L1331.0,214.8L1331.1,213.3L1331.1,211.9L1331.1,210.5L1331.1,209.1L1331.2,207.7L1331.2,206.3L1331.2,204.9L1331.2,203.6L1331.3,202.2L1331.3,200.9L1331.3,199.5L1331.3,198.2L1331.4,196.9L1331.4,195.6L1331.4,194.4L1331.4,193.1L1331.5,191.9L1331.5,190.6L1331.5,189.4L1331.5,188.2L1331.5,187.0L1331.6,185.8L1331.6,184.7L1331.6,183.5L1331.6,182.4L1331.7,181.3L1331.7,180.2L1331.7,179.1L1331.7,178.0L1331.8,177.0L1331.8,176.0L1331.8,175.0L1331.8,174.0L1331.9,173.0L1331.9,172.0L1331.9,171.1L1331.9,170.1L1332.0,169.2L1332.0,168.3L1332.0,167.5L1332.0,166.6L1332.1,165.8L1332.1,165.0L1332.1,164.2L1332.1,163.4L1332.2,162.7L1332.2,161.9L1332.2,161.2L1332.2,160.5L1332.2,159.9L1332.3,159.2L1332.3,158.6L1332.3,158.0L1332.3,157.4L1332.4,156.8L1332.4,156.3L1332.4,155.8L1332.4,155.3L1332.5,154.8L1332.5,154.4L1332.5,154.0L1332.5,153.6L1332.6,153.2L1332.6,152.8L1332.6,152.5L1332.6,152.2L1332.7,151.9L1332.7,151.7L1332.7,151.5L1332.7,151.3L1332.8,151.1L1332.8,150.9L1332.8,150.8L1332.8,150.7L1332.9,150.7L1332.9,150.6L1332.9,150.6L1332.9,150.6L1332.9,150.7L1333.0,150.7L1333.0,150.8L1333.0,150.9L1333.0,151.1L1333.1,151.3L1333.1,151.5L1333.1,151.7L1333.1,151.9L1333.2,152.2L1333.2,152.5L1333.2,152.8L1333.2,153.2L1333.3,153.6L1333.3,154.0L1333.3,154.4L1333.3,154.8L1333.4,155.3L1333.4,155.8L1333.4,156.3L1333.4,156.8L1333.5,157.4L1333.5,158.0L1333.5,158.6L1333.5,159.2L1333.6,159.9L1333.6,160.5L1333.6,161.2L1333.7,161.9L1333.7,162.7L1333.7,163.4L1333.7,164.2L1333.8,165.0L1333.8,165.8L1333.8,166.6L1333.8,167.5L1333.9,168.3L1333.9,169.2L1333.9,170.1L1333.9,171.1L1334.0,172.0L1334.0,173.0L1334.0,174.0L1334.0,175.0L1334.1,176.0L1334.1,177.0L1334.1,178.0L1334.1,179.1L1334.2,180.2L1334.2,181.3L1334.2,182.4L1334.3,183.5L1334.3,184.7L1334.3,185.8L1334.3,187.0L1334.4,188.2L1334.4,189.4L1334.4,190.6L1334.4,191.9L1334.5,193.1L1334.5,194.4L1334.5,195.6L1334.5,196.9L1334.6,198.2L1334.6,199.5L1334.6,200.9L1334.7,202.2L1334.7,203.6L1334.7,204.9L1334.7,206.3L1334.8,207.7L1334.8,209.1L1334.8,210.5L1334.8,211.9L1334.9,213.3L1334.9,214.8L1334.9,216.2L1334.9,217.7L1335.0,219.1L1335.0,220.6L1335.0,222.1L1335.1,223.6L1335.1,225.1L1335.1,226.6L1335.1,228.1L1335.2,229.7L1335.2,231.2L1335.2,232.8L1335.2,234.3L1335.3,235.9L1335.3,237.4L1335.3,239.0L1335.3,240.6L1335.4,242.2L1335.4,243.8L1335.4,245.4L1335.5,247.0L1335.5,248.6L1335.5,250.2L1335.5,251.8L1335.6,253.4L1335.6,255.0L1335.6,256.7L1335.6,258.3L1335.7,259.9L1335.7,261.6L1335.7,263.2L1335.7,264.9L1335.8,266.5L1335.8,268.2L1335.8,269.8L1335.8,271.5L1335.9,273.2L1335.9,274.8L1335.9,276.5L1335.9,278.2L1336.0,279.8L1336.0,281.5L1336.0,283.2L1336.0,284.8L1336.1,286.5L1336.1,288.2L1336.1,289.8L1336.1,291.5L1336.2,293.2L1336.2,294.8L1336.2,296.5L1336.2,298.2L1336.3,299.8L1336.3,301.5L1336.3,303.1L1336.3,304.8L1336.4,306.4L1336.4,308.1L1336.4,309.7L1336.4,311.4L1336.5,313.0L1336.5,314.7L1336.5,316.3L1336.5,317.9L1336.6,319.5L1336.6,321.2L1336.6,322.8L1336.6,324.4L1336.7,326.0L1336.7,327.6L1336.7,329.2L1336.7,330.8L1336.7,332.3L1336.8,333.9L1336.8,335.5L1336.8,337.0L1336.8,338.6L1336.9,340.1L1336.9,341.7L1336.9,343.2L1336.9,344.7L1337.0,346.2L1337.0,347.8L1337.0,349.2L1337.0,350.7L1337.0,352.2L1337.1,353.7L1337.1,355.1L1337.1,356.6L1337.1,358.0L1337.2,359.5L1337.2,360.9L1337.2,362.3L1337.2,363.7L1337.2,365.1L1337.3,366.5L1337.3,367.8L1337.3,369.2L1337.3,370.5L1337.3,371.8L1337.4,373.2L1337.4,374.5L1337.4,375.8L1337.4,377.0L1337.4,378.3L1337.5,379.5L1337.5,380.8L1337.5,382.0L1337.5,383.3L1337.5,384.6L1337.6,385.9L1337.6,387.2L1337.6,388.5L1337.6,389.8L1337.6,391.1L1337.7,392.5L1337.7,393.8L1337.7,395.1L1337.7,396.4L1337.7,397.8L1337.8,399.1L1337.8,400.5L1337.8,401.8L1337.8,403.1L1337.8,404.5L1337.9,405.8L1337.9,407.2L1337.9,408.6L1337.9,409.9L1337.9,411.3L1337.9,412.6L1338.0,414.0L1338.0,415.4L1338.0,416.7L1338.0,418.1L1338.0,419.5L1338.1,420.9L1338.1,422.3L1338.1,423.6L1338.1,425.0L1338.1,426.4L1338.1,427.8L1338.2,429.2L1338.2,430.6L1338.2,432.0L1338.2,433.3L1338.2,434.7L1338.2,436.1L1338.3,437.5L1338.3,438.9L1338.3,440.3L1338.3,441.7L1338.3,443.1L1338.3,444.5L1338.4,445.9L1338.4,447.3L1338.4,448.7L1338.4,450.1L1338.4,451.5L1338.4,452.9L1338.5,454.3L1338.5,455.7L1338.5,457.1L1338.5,458.5L1338.5,459.9L1338.5,461.3L1338.5,462.7L1338.6,464.1L1338.6,465.5L1338.6,466.9L1338.6,468.3L1338.6,469.7L1338.6,471.1L1338.7,472.5L1338.7,473.9L1338.7,475.3L1338.7,476.7L1338.7,478.0L1338.7,479.4L1338.7,480.8L1338.8,482.2L1338.8,483.6L1338.8,485.0L1338.8,486.4L1338.8,487.7L1338.8,489.1L1338.8,490.5L1338.9,491.8L1338.9,493.2L1338.9,494.6L1338.9,495.9L1338.9,497.3L1338.9,498.7L1338.9,500.0L1339.0,501.4L1339.0,502.7L1339.0,504.1L1339.0,505.4L1339.0,506.8L1339.0,508.1L1339.0,509.4L1339.1,510.8L1339.1,512.1L1339.1,513.4L1339.1,514.8L1339.1,516.1L1339.1,517.4L1339.1,518.7L1339.1,520.0L1339.2,521.3L1339.2,522.6L1339.2,523.9L1339.2,525.2L1339.2,526.5L1339.2,527.8L1339.2,529.1L1339.3,530.3L1339.3,531.6L1339.3,532.9L1339.3,534.1L1339.3,535.4L1339.3,536.7L1339.3,537.9L1339.3,539.1L1339.4,540.4L1339.4,541.6L1339.4,542.8L1339.4,544.1L1339.4,545.3L1339.4,546.5L1339.4,547.7L1339.4,548.9L1339.5,550.1L1339.5,551.3L1339.5,552.5L1339.5,553.6L1339.5,554.8L1339.5,556.0L1339.5,557.1L1339.6,558.3L1339.6,559.4L1339.6,560.6L1339.6,561.7L1339.6,562.8L1339.6,563.9L1339.6,565.1L1339.6,566.2L1339.7,567.3L1339.7,568.4L1339.7,569.4L1339.7,570.5L1339.7,571.6L1339.7,572.7L1339.7,573.7L1339.7,574.8L1339.8,575.8L1339.8,576.8L1339.8,577.9L1339.8,578.9L1339.8,579.9L1339.8,580.9L1339.8,581.9L1339.8,582.9L1339.9,583.9L1339.9,584.8L1339.9,585.8L1339.9,586.7L1339.9,587.7L1339.9,588.6L1339.9,589.6L1340.0,590.5L1340.0,591.4L1340.0,592.3L1340.0,593.2L1340.0,594.1L1340.0,594.9L1340.0,595.8L1340.0,596.7L1340.1,597.5L1340.1,598.4L1340.1,599.2L1340.1,600.0L1340.1,602.7L1340.2,605.3L1340.2,607.7L1340.3,610.1L1340.3,612.4L1340.4,614.7L1340.4,616.8L1340.4,618.8L1340.5,620.8L1340.5,622.7L1340.6,624.5L1340.6,626.3L1340.6,628.0L1340.7,629.6L1340.7,631.1L1340.8,632.6L1340.8,634.0L1340.8,635.4L1340.9,636.7L1340.9,638.0L1340.9,639.2L1341.0,640.4L1341.0,641.5L1341.1,642.6L1341.1,643.6L1341.1,644.6L1341.2,645.6L1341.2,646.5L1341.2,647.4L1341.3,648.3L1341.3,649.1L1341.3,649.9L1341.4,650.7L1341.4,651.5L1341.5,652.3L1341.5,653.0L1341.5,653.8L1341.6,654.5L1341.6,655.2L1341.7,656.0L1341.7,656.7L1341.7,657.4L1341.8,658.2L1341.8,658.9L1341.9,659.6L1341.9,660.4L1342.0,661.2L1342.0,661.9L1342.1,662.8L1342.1,663.6L1342.2,664.4L1342.2,665.3L1342.3,667.5L1342.4,669.6L1342.6,671.8L1342.7,673.8L1342.8,675.9L1343.0,677.8L1343.1,679.7L1343.3,681.5L1343.4,683.2L1343.5,684.8L1343.7,686.2L1343.8,687.6L1344.0,688.8L1344.1,689.8L1344.3,690.7L1344.4,691.5L1344.6,692.0L1344.7,692.4L1344.9,692.6L1345.0,692.5L1345.2,692.3L1345.3,692.0L1345.4,691.6L1345.5,691.1L1345.6,690.4L1345.7,689.7L1345.8,688.8L1345.9,687.9L1346.0,687.1L1346.1,685.7L1346.2,684.9L1346.3,684.1L1346.5,681.1L1346.6,680.1L1346.7,678.6L1346.8,676.5L1346.9,677.2L1347.0,675.3L1347.1,673.6L1347.2,670.1L1347.3,670.7L1347.4,668.8L1347.6,666.5L1347.7,665.6L1347.8,663.2L1347.9,661.0L1348.0,659.1L1348.1,657.9L1348.2,655.9L1348.3,655.2L1348.5,654.8L1348.6,653.3L1348.7,652.4L1348.8,650.8L1348.9,648.3L1349.0,647.7L1349.2,646.0L1349.3,645.5L1349.4,643.3L1349.5,641.2L1349.7,640.7L1349.8,640.1L1349.9,636.7L1350.1,636.9L1350.2,633.2L1350.3,632.4L1350.4,630.9L1350.6,630.7L1350.7,629.8L1350.8,627.9L1351.0,625.4L1351.1,625.5L1351.2,622.7L1351.3,621.2L1351.5,621.7L1351.6,619.8L1351.7,618.8L1351.9,617.6L1352.0,617.4L1352.1,615.0L1352.2,615.0L1352.3,613.8L1352.5,613.4L1352.6,611.6L1352.7,611.7L1354.4,608.5L1356.0,611.5L1356.3,612.2L1356.7,614.6L1357.1,614.8L1357.4,618.7L1357.8,618.5L1358.1,619.9L1358.5,621.6L1358.9,625.0L1359.2,624.2L1359.6,623.8L1359.9,623.2L1360.1,622.6L1360.4,623.3L1360.7,622.0L1360.9,620.9L1361.2,619.5L1361.5,616.2L1361.7,615.9L1362.0,613.7L1362.3,613.2L1362.6,611.7L1362.9,610.4L1363.2,607.0L1363.5,607.7L1363.9,606.3L1364.3,604.9L1364.7,601.2L1365.1,599.9L1365.4,598.2L1365.8,596.6L1366.2,597.4L1366.6,596.1L1367.0,594.7L1367.4,594.5L1367.8,593.4L1368.6,592.2L1369.4,591.9L1370.1,592.8L1370.9,595.9L1371.6,596.2L1372.3,598.6L1372.5,599.7L1372.7,599.6L1372.9,601.1L1373.1,602.2L1373.3,604.4L1373.4,604.6L1373.6,605.7L1373.8,608.5L1373.9,608.6L1374.1,610.8L1374.3,611.6L1374.4,611.4L1374.6,613.9L1374.8,615.4L1374.9,617.8L1375.1,618.2L1375.3,620.7L1375.4,621.4L1375.6,621.7L1375.7,624.7L1375.8,624.0L1376.0,627.3L1376.1,627.1L1376.2,628.2L1376.4,630.2L1376.5,633.2L1376.6,635.4L1376.8,634.4L1376.9,637.3L1377.0,638.8L1377.2,641.2L1377.3,641.1L1377.5,643.3L1377.6,644.4L1377.8,646.9L1377.9,646.7L1378.0,649.7L1378.2,649.0L1378.3,649.8L1378.5,651.9L1378.6,652.1L1378.8,651.7L1378.9,653.6L1379.2,652.5L1379.6,653.9L1379.9,652.5L1380.3,651.1L1380.6,648.7L1381.0,645.8L1381.3,643.9L1381.7,642.0L1382.1,641.8L1382.4,638.8L1382.8,640.7L1383.1,638.7L1383.3,639.7L1383.6,640.5L1383.9,642.9L1384.2,642.8L1384.4,643.6L1384.7,646.1L1385.0,645.7L1385.3,647.6L1385.6,649.3L1385.9,651.4L1386.2,653.0L1386.4,654.4L1386.7,655.3L1387.0,657.0L1387.3,658.3L1387.5,661.1L1387.6,661.6L1387.8,662.8L1387.9,662.4L1388.1,664.2L1388.3,666.1L1388.4,666.8L1388.6,666.7L1388.7,668.8L1388.9,671.1L1389.1,670.6L1389.2,671.7L1389.4,673.2L1389.6,675.5L1389.7,677.2L1389.9,676.7L1390.0,678.0L1390.2,679.5L1390.4,681.1L1390.5,682.9L1390.7,683.3L1390.8,685.1L1391.0,686.1L1391.1,689.6L1391.3,690.3L1391.4,690.1L1391.5,693.7L1391.7,692.9L1391.8,695.0L1391.9,697.7L1392.0,698.3L1392.1,699.3L1392.2,699.7L1392.3,700.3L1392.4,702.6L1392.5,702.4L1392.5,703.9L1392.6,705.6L1392.7,705.9L1392.8,708.1L1392.9,710.3L1392.9,711.3L1393.0,712.1L1393.1,713.7L1393.2,714.5L1393.2,714.9L1393.3,717.4L1393.4,718.2L1393.4,720.3L1393.5,722.1L1393.6,722.1L1393.7,723.8L1393.7,725.5L1393.8,726.0L1393.9,726.8L1394.0,729.4L1394.1,731.1L1394.1,732.1L1394.2,733.2L1394.3,734.9L1394.4,735.8L1394.5,737.0L1394.6,737.8L1394.7,738.7L1394.8,740.8L1394.9,740.7L1395.0,743.0L1395.1,744.2L1395.2,745.4L1395.3,746.7L1395.4,747.9L1395.6,749.2L1395.7,750.4L1395.8,751.7L1395.9,753.0L1396.0,754.2L1396.2,755.5L1396.3,756.7L1396.4,758.0L1396.5,759.3L1396.7,760.5L1396.8,761.8L1396.9,763.1L1397.0,764.4L1397.2,765.6L1397.3,766.9L1397.4,768.2L1397.6,769.5L1397.7,770.8L1397.8,772.0L1397.9,773.3L1398.1,774.6L1398.2,775.9L1398.3,777.1L1398.4,778.4L1398.5,779.7L1398.7,781.0L1398.8,782.2L1398.9,783.5L1399.0,784.8L1399.1,786.1L1399.2,787.3L1399.3,788.6L1399.4,789.9L1399.5,791.1L1399.6,792.4L1399.7,793.6L1399.8,794.9L1399.9,796.1L1399.9,797.4L1400.0,798.6L1400.1,799.9L1400.2,801.1L1400.3,802.3L1400.3,803.6L1400.4,804.8L1400.5,806.1L1400.6,807.3L1400.6,808.5L1400.7,809.8L1400.8,811.0L1400.9,812.3L1400.9,813.5L1401.0,814.8L1401.1,816.0L1401.1,817.3L1401.2,818.5L1401.3,819.8L1401.4,821.1L1401.4,822.3L1401.5,823.6L1401.6,824.9L1401.7,826.2L1401.7,827.5L1401.8,828.8L1401.9,830.1L1402.0,831.4L1402.0,832.7L1402.1,834.0L1402.2,835.4L1402.3,836.7L1402.4,837.9L1402.5,839.1L1402.5,840.3L1402.6,841.5L1402.7,842.7L1402.8,843.9L1402.9,845.1L1402.9,846.3L1403.0,847.5L1403.1,848.7L1403.2,850.0L1403.3,851.2L1403.4,852.4L1403.4,853.7L1403.5,854.9L1403.6,856.1L1403.7,857.4L1403.8,858.6L1403.9,859.9L1404.0,861.1L1404.1,862.4L1404.1,863.6L1404.2,864.9L1404.3,866.1L1404.4,867.4L1404.5,868.7L1404.6,870.0L1404.7,871.2L1404.8,872.5L1404.8,873.8L1404.9,875.1L1405.0,876.4L1405.1,877.7L1405.2,879.0L1405.3,880.3L1405.3,881.6L1405.4,882.9L1405.5,884.2L1405.6,885.5L1405.7,886.8L1405.7,888.1L1405.8,889.5L1405.9,890.8L1406.0,892.0L1406.0,893.2L1406.1,894.4L1406.2,895.6L1406.2,896.9L1406.3,898.1L1406.4,899.4L1406.4,900.6L1406.5,901.9L1406.6,903.1L1406.6,904.4L1406.7,905.7L1406.8,907.0L1406.8,908.2L1406.9,909.5L1407.0,910.8L1407.0,912.1L1407.1,913.4L1407.2,914.7L1407.2,916.0L1407.3,917.3L1407.3,918.6L1407.4,919.9L1407.5,921.2L1407.5,922.5L1407.6,923.8L1407.7,925.1L1407.7,926.4L1407.8,927.7L1407.8,929.0L1407.9,930.3L1408.0,931.5L1408.0,932.8L1408.1,934.1L1408.1,935.3L1408.2,936.6L1408.3,937.8L1408.3,939.1L1408.4,940.3L1408.4,941.5L1408.5,942.8L1408.6,944.0L1408.6,945.2L1408.7,946.4L1408.7,947.5L1408.8,948.7L1408.8,949.9L1408.9,951.0L1409.0,952.4L1409.0,953.8L1409.1,955.2L1409.2,956.6L1409.2,958.0L1409.3,959.3L1409.4,960.7L1409.4,962.1L1409.5,963.4L1409.5,964.8L1409.6,966.1L1409.7,967.5L1409.7,968.8L1409.8,970.1L1409.8,971.5L1409.9,972.8L1410.0,974.1L1410.0,975.4L1410.1,976.7L1410.1,977.9L1410.2,979.2L1410.2,980.5L1410.3,981.7L1410.4,983.0L1410.4,984.2L1410.5,985.4L1410.5,986.6L1410.6,987.8L1410.7,989.0L1410.7,990.1L1410.8,991.3L1410.8,992.4L1410.9,993.5L1411.0,994.7L1411.0,995.8L1411.1,996.8L1411.2,997.9L1411.2,999.0L1411.3,1000.0L1411.4,1001.6L1411.5,1003.0L1411.6,1004.5L1411.7,1005.8L1411.8,1007.1L1412.0,1008.3L1412.1,1009.5L1412.2,1010.6L1412.3,1011.7L1412.4,1012.8L1412.5,1013.9L1412.6,1015.0L1412.8,1016.0L1412.9,1017.1L1413.0,1018.2L1413.1,1019.3L1413.2,1020.4L1413.4,1021.6L1413.5,1022.8L1413.6,1024.0L1413.8,1025.4L1413.9,1026.7L1414.0,1028.2L1414.2,1029.7L1414.3,1031.3L1414.4,1032.3L1414.5,1033.4L1414.6,1034.4L1414.7,1035.5L1414.7,1036.7L1414.8,1037.8L1414.9,1039.0L1415.0,1040.2L1415.1,1041.4L1415.2,1042.6L1415.3,1043.9L1415.4,1045.1L1415.5,1046.4L1415.6,1047.7L1415.7,1049.0L1415.8,1050.3L1415.9,1051.6L1416.0,1053.0L1416.1,1054.3L1416.2,1055.6L1416.3,1057.0L1416.4,1058.3L1416.5,1059.7L1416.6,1061.0L1416.7,1062.3L1416.8,1063.7L1416.9,1065.0L1417.0,1066.3L1417.1,1067.7L1417.2,1069.0L1417.3,1070.3L1417.4,1071.6L1417.5,1072.8L1417.6,1074.1L1417.7,1075.4L1417.8,1076.6L1418.0,1077.8L1418.1,1079.0L1418.2,1080.2L1418.3,1081.4L1418.4,1082.5L1418.5,1083.9L1418.7,1085.3L1418.8,1086.6L1419.0,1088.0L1419.1,1089.3L1419.3,1090.6L1419.4,1091.9L1419.6,1093.2L1419.7,1094.5L1419.9,1095.8L1420.0,1097.1L1420.2,1098.3L1420.3,1099.6L1420.5,1100.8L1420.7,1102.1L1420.8,1103.3L1421.0,1104.5L1421.1,1105.7L1421.3,1106.9L1421.4,1108.1L1421.6,1109.3L1421.8,1110.5L1421.9,1111.7L1422.1,1112.9L1422.2,1114.1L1422.4,1115.3L1422.6,1116.4L1422.7,1117.6L1422.9,1118.8L1423.0,1120.0L1423.2,1121.1L1423.3,1122.3L1423.5,1123.5L1423.7,1124.8L1423.9,1126.2L1424.0,1127.5L1424.2,1128.8L1424.4,1130.2L1424.6,1131.5L1424.7,1132.8L1424.9,1134.1L1425.1,1135.5L1425.3,1136.8L1425.4,1138.1L1425.6,1139.4L1425.8,1140.7L1426.0,1141.9L1426.1,1143.2L1426.3,1144.5L1426.5,1145.8L1426.7,1147.0L1426.8,1148.3L1427.0,1149.5L1427.2,1150.8L1427.4,1152.0L1427.5,1153.2L1427.7,1154.4L1427.9,1155.7L1428.1,1156.9L1428.2,1158.0L1428.4,1159.2L1428.6,1160.4L1428.8,1161.8L1429.0,1163.2L1429.2,1164.7L1429.5,1166.1L1429.7,1167.6L1429.9,1169.0L1430.1,1170.5L1430.3,1171.9L1430.5,1173.3L1430.8,1174.7L1431.0,1176.1L1431.2,1177.5L1431.4,1178.8L1431.6,1180.1L1431.9,1181.4L1432.1,1182.7L1432.3,1183.9L1432.5,1185.1L1432.7,1186.2L1432.9,1187.3L1433.2,1188.4L1433.4,1189.4L1433.6,1190.3L1433.8,1191.2L1434.4,1193.2L1434.9,1194.7L1435.5,1195.8L1436.0,1196.7L1436.6,1197.4L1437.1,1198.1L1437.7,1199.0L1438.3,1200.0L1438.9,1201.4L1439.3,1202.4L1439.7,1203.5L1440.1,1204.7L1440.5,1205.9L1440.9,1207.2L1441.3,1208.5L1441.7,1209.9L1442.1,1211.3L1442.5,1212.6L1442.9,1214.0L1443.3,1215.3L1443.8,1216.5L1444.2,1217.7L1444.6,1218.9L1445.0,1219.9L1445.6,1221.3L1446.1,1222.7L1446.6,1223.9L1447.1,1225.1L1447.6,1226.3L1448.1,1227.3L1448.7,1228.3L1449.4,1229.3L1450.3,1230.3L1451.2,1231.2L1452.1,1232.0L1453.2,1232.7L1454.3,1233.4L1455.5,1234.1L1456.8,1234.7L1458.1,1235.3L1459.4,1235.9L1460.7,1236.5L1462.0,1237.0L1463.3,1237.5L1464.4,1238.0L1465.5,1238.4L1467.0,1238.9L1468.4,1239.3L1469.7,1239.5L1470.9,1239.7L1472.1,1239.9L1473.3,1240.2L1474.5,1240.7L1475.8,1241.4L1476.8,1242.1L1477.8,1243.0L1478.9,1244.0L1479.9,1245.1L1481.0,1246.3L1482.1,1247.5L1483.0,1248.6L1484.0,1249.7L1484.8,1250.6L1485.5,1251.4L1486.0,1252.0L1489.5,1263.3L1493.8,1259.4L1497.0,1254.0L1500.6,1259.2L1504.1,1260.6L1508.9,1247.8L1513.1,1263.2L1516.6,1255.7L1521.5,1244.0L1525.3,1247.2L1529.8,1267.5L1533.6,1245.6L1537.5,1257.1L1541.8,1256.3L1545.9,1264.6L1549.7,1253.7L1554.6,1248.5L1558.8,1253.2L1563.2,1246.2L1568.2,1252.2L1570.8,1250.1L1574.3,1243.3L1577.9,1253.9L1582.1,1252.2L1585.3,1248.8L1589.6,1267.4L1593.4,1248.7L1598.0,1253.2L1601.0,1246.4L1605.4,1264.0L1609.5,1255.2L1613.4,1248.9L1618.3,1252.2L1622.4,1264.3L1627.0,1255.2L1630.2,1257.3L1633.0,1264.7L1636.4,1265.1L1635.3,1240.0L1641.5,1234.3L1648.0,1246.0L1655.0,1228.0L1662.0,1205.6L1665.1,1195.3L1667.1,1164.5L1669.2,1139.9L1674.3,1119.4L1677.4,1086.6L1681.5,1051.8L1683.5,1008.7L1688.5,970.0L1692.0,893.4L1694.5,825.0L1698.0,784.0L1698.9,710.2L1700.8,677.4L1703.5,688.4L1705.4,658.3L1709.0,710.2L1713.1,691.1L1716.4,677.4L1717.6,729.4L1721.0,716.0L1724.5,711.0L1724.8,758.0L1727.5,752.0L1729.1,750.1L1726.8,765.1L1730.7,758.2L1727.8,774.2L1732.0,765.0L1730.1,785.0L1733.6,771.8L1730.6,794.0L1734.2,786.9L1733.1,802.0L1735.9,795.4L1734.1,810.8L1738.6,806.9L1736.2,825.4L1740.4,814.7L1737.2,835.7L1741.7,826.9L1739.1,844.1L1742.0,836.4L1740.0,851.2L1743.6,844.5L1740.6,865.1L1745.0,854.2L1742.5,873.3L1746.1,865.9L1743.8,885.2L1748.9,877.7L1746.3,895.7L1749.6,887.5L1747.8,908.4L1751.7,897.9L1749.5,916.1L1753.9,906.4L1752.2,924.8L1755.5,917.0L1754.3,937.4L1757.7,928.3L1756.2,946.7L1760.1,933.9L1757.2,952.7L1760.7,942.1L1758.7,963.7L1762.0,954.4L1759.4,973.6L1761.4,980.0L1764.5,1027.2L1770.7,1017.9L1773.7,1041.5L1777.0,1100.0L1779.9,1164.5L1783.0,1190.0L1786.3,1197.0L1786.6,1103.0" stroke="#0000ff" stroke-width="6.3"/>
<path d="M258.2,1260.9C259.1,1261.2 263.4,1265.2 265.6,1263.3C267.8,1261.4 273.9,1247.3 276.3,1245.3C278.7,1243.3 282.5,1248.5 285.3,1246.9C288.1,1245.3 295.3,1235.7 299.3,1232.1C303.3,1228.5 315.9,1221.0 319.0,1217.3C322.1,1213.6 323.7,1203.1 325.5,1200.9C327.3,1198.7 331.8,1200.5 333.7,1199.3C335.6,1198.1 338.3,1192.2 341.1,1191.1C343.9,1190.0 354.1,1191.7 356.7,1190.2C359.3,1188.7 361.2,1180.6 362.5,1178.8C363.8,1177.0 366.1,1177.0 367.4,1175.5C368.7,1174.0 371.1,1168.0 373.2,1166.4C375.3,1164.8 382.4,1162.5 384.6,1162.3C386.8,1162.1 389.2,1166.0 391.2,1164.8C393.2,1163.6 398.9,1153.9 401.1,1152.5C403.3,1151.1 407.3,1153.8 409.3,1153.3C411.3,1152.8 415.3,1148.7 417.5,1148.4C419.7,1148.1 425.3,1151.8 427.3,1150.8C429.3,1149.8 432.1,1140.7 433.9,1140.2C435.7,1139.7 440.1,1147.3 442.1,1146.7C444.1,1146.1 448.5,1135.7 450.3,1135.2C452.1,1134.7 455.2,1142.7 456.9,1142.6C458.6,1142.5 462.5,1134.9 464.3,1134.4C466.1,1133.9 470.1,1139.4 471.7,1138.5C473.3,1137.6 475.2,1129.1 477.4,1127.0C479.6,1124.9 487.2,1121.2 489.7,1121.3C492.2,1121.4 495.9,1128.2 497.9,1127.8C499.9,1127.4 504.1,1119.6 506.2,1118.0C508.3,1116.4 512.1,1114.6 515.2,1114.7C518.3,1114.8 529.1,1119.9 532.4,1118.8C535.7,1117.7 541.0,1106.7 543.1,1105.7C545.2,1104.7 548.4,1110.5 549.9,1110.7C551.4,1110.9 553.6,1106.9 555.3,1107.4C557.0,1107.9 562.1,1115.1 564.1,1115.0C566.1,1114.9 570.4,1108.0 572.2,1106.8C574.0,1105.6 577.6,1106.8 579.4,1105.2C581.2,1103.6 585.5,1093.4 587.1,1093.1C588.7,1092.8 591.0,1101.4 593.0,1102.4C595.0,1103.4 601.8,1101.1 604.0,1101.3C606.2,1101.5 609.5,1104.6 611.2,1104.1C612.9,1103.6 616.1,1098.5 618.2,1097.0C620.3,1095.5 625.3,1091.5 628.7,1092.0C632.1,1092.5 643.3,1100.4 646.2,1100.8C649.1,1101.2 651.0,1094.5 652.8,1095.3C654.6,1096.1 659.3,1107.3 661.5,1107.4C663.7,1107.5 668.9,1097.1 671.4,1096.4C673.9,1095.7 679.7,1101.4 682.3,1101.9C684.9,1102.4 689.9,1100.4 693.3,1100.8C696.7,1101.2 707.7,1103.8 710.8,1105.2C713.9,1106.6 717.4,1113.1 719.5,1112.8C721.6,1112.5 725.8,1103.0 728.3,1103.0C730.8,1103.0 738.1,1112.7 740.3,1112.8C742.5,1112.9 745.1,1103.3 746.9,1104.1C748.7,1104.9 753.7,1118.9 755.7,1119.4C757.7,1119.9 760.8,1108.0 763.3,1108.5C765.8,1109.0 774.0,1122.5 776.5,1123.8C779.0,1125.1 782.3,1119.0 784.1,1119.4C785.9,1119.8 789.6,1125.8 791.8,1127.1C794.0,1128.4 799.2,1129.1 802.1,1130.5C805.0,1131.9 812.4,1138.5 815.9,1139.1C819.4,1139.7 827.5,1134.5 831.2,1135.8C834.9,1137.1 842.8,1147.6 846.5,1150.1C850.2,1152.6 858.5,1154.5 861.8,1156.6C865.1,1158.7 871.5,1167.5 873.9,1167.6C876.3,1167.7 879.5,1157.7 881.5,1157.7C883.5,1157.7 887.9,1166.5 890.3,1167.6C892.7,1168.7 899.1,1165.6 901.3,1166.5C903.5,1167.4 906.9,1173.8 908.8,1174.9C910.7,1176.0 915.5,1174.8 917.5,1176.0C919.5,1177.2 923.5,1184.2 925.2,1184.7C926.9,1185.2 929.6,1179.4 931.7,1180.3C933.8,1181.2 940.3,1190.4 942.7,1192.4C945.1,1194.4 948.3,1196.8 951.5,1196.7C954.7,1196.6 965.3,1190.8 969.0,1191.3C972.7,1191.8 978.8,1199.5 982.1,1201.1C985.4,1202.7 993.0,1203.9 996.3,1204.4C999.6,1204.9 1006.9,1204.0 1009.5,1205.5C1012.1,1207.0 1016.4,1215.7 1018.2,1216.5C1020.0,1217.3 1022.2,1211.5 1024.8,1212.1C1027.4,1212.7 1037.2,1220.7 1040.1,1221.9C1043.0,1223.1 1047.1,1221.4 1048.9,1221.9C1050.7,1222.4 1053.7,1225.9 1055.4,1226.3C1057.1,1226.7 1061.3,1224.8 1063.1,1225.2C1064.9,1225.6 1068.8,1229.5 1070.8,1229.6C1072.8,1229.7 1077.5,1226.3 1079.5,1226.3C1081.5,1226.3 1085.6,1228.5 1087.2,1229.6C1088.8,1230.7 1091.0,1234.1 1092.7,1235.1C1094.4,1236.1 1099.6,1238.6 1101.4,1238.3C1103.2,1238.0 1106.2,1232.8 1108.0,1232.9C1109.8,1233.0 1114.3,1239.3 1116.7,1239.4C1119.1,1239.5 1125.6,1234.3 1127.7,1234.0C1129.8,1233.7 1132.7,1237.7 1134.3,1237.3C1135.9,1236.9 1138.8,1230.4 1140.8,1230.7C1142.8,1231.0 1147.3,1239.4 1150.7,1239.4C1154.1,1239.4 1165.1,1233.2 1169.3,1230.7C1173.5,1228.2 1182.8,1219.3 1185.7,1218.6C1188.6,1217.9 1191.7,1224.3 1193.4,1225.2C1195.1,1226.1 1198.1,1225.0 1199.9,1226.3C1201.7,1227.6 1206.9,1235.7 1208.7,1236.2C1210.5,1236.7 1213.2,1230.2 1215.3,1230.7C1217.4,1231.2 1223.8,1240.1 1226.2,1240.5C1228.6,1240.9 1232.9,1233.7 1235.0,1234.0C1237.1,1234.3 1241.9,1241.9 1243.7,1242.7C1245.5,1243.5 1248.5,1239.6 1250.3,1240.5C1252.1,1241.4 1257.3,1250.1 1259.1,1250.4C1260.9,1250.7 1264.2,1242.6 1265.6,1242.7C1267.0,1242.8 1269.3,1251.6 1271.1,1251.5C1272.9,1251.4 1278.8,1243.7 1281.0,1241.6C1283.2,1239.5 1287.5,1237.4 1289.2,1234.3C1290.9,1231.2 1294.2,1221.7 1295.4,1215.8C1296.6,1209.9 1298.5,1193.6 1299.5,1185.0C1300.5,1176.4 1302.6,1156.3 1303.6,1144.0C1304.6,1131.7 1306.8,1092.8 1307.7,1082.5C1308.6,1072.2 1309.5,1064.8 1310.7,1057.9C1311.9,1051.0 1316.7,1032.0 1317.9,1025.1C1319.1,1018.2 1320.4,1009.4 1321.0,1000.5C1321.6,991.6 1322.2,967.8 1322.7,951.0C1323.2,934.2 1324.5,880.6 1325.1,860.8C1325.7,841.0 1327.1,800.4 1327.8,785.6C1328.5,770.8 1330.1,739.2 1330.8,737.4C1331.5,735.6 1333.2,759.3 1333.8,770.5C1334.4,781.7 1335.5,814.5 1336.2,830.7C1336.9,846.9 1339.1,892.9 1339.8,905.9C1340.5,918.9 1341.6,933.2 1342.2,939.0C1342.8,944.8 1343.8,954.7 1344.6,954.0C1345.4,953.3 1347.9,936.3 1348.8,932.9C1349.7,929.5 1351.0,926.1 1351.8,925.4C1352.6,924.7 1354.6,929.2 1355.7,926.9C1356.8,924.6 1359.2,909.9 1360.8,905.9C1362.4,901.9 1367.3,893.8 1368.7,893.8C1370.1,893.8 1371.4,901.6 1372.3,905.9C1373.2,910.2 1375.0,926.8 1375.9,929.9C1376.8,933.0 1378.7,931.6 1379.8,931.4C1380.9,931.2 1384.3,927.1 1385.2,928.4C1386.1,929.7 1386.3,936.8 1387.3,942.0C1388.3,947.2 1392.0,965.0 1393.3,972.0C1394.6,979.0 1397.0,994.6 1397.8,1000.0C1398.6,1005.4 1399.2,1011.9 1399.9,1016.9C1400.6,1021.9 1403.0,1033.6 1404.0,1041.5C1405.0,1049.4 1407.1,1071.4 1408.1,1082.5C1409.1,1093.6 1411.2,1124.0 1412.2,1133.8C1413.2,1143.6 1415.1,1158.4 1416.3,1164.5C1417.5,1170.6 1420.9,1179.8 1422.5,1185.0C1424.1,1190.2 1428.2,1204.6 1429.7,1207.6C1431.2,1210.6 1433.6,1206.9 1434.8,1209.6C1436.0,1212.3 1438.7,1226.0 1439.9,1230.2C1441.1,1234.4 1443.3,1245.7 1445.0,1244.5C1446.7,1243.3 1452.3,1219.6 1454.3,1219.9C1456.3,1220.2 1460.0,1240.0 1461.4,1246.6C1462.8,1253.2 1464.8,1271.6 1466.0,1275.0C1467.2,1278.4 1469.8,1278.9 1471.0,1275.0C1472.2,1271.1 1474.7,1247.7 1475.8,1242.5C1476.9,1237.3 1478.9,1234.8 1480.0,1232.0C1481.1,1229.2 1483.9,1217.9 1485.0,1218.9C1486.1,1219.9 1487.9,1234.7 1489.0,1240.0C1490.1,1245.3 1493.1,1262.4 1494.3,1263.0C1495.5,1263.6 1497.9,1248.8 1499.0,1245.0C1500.1,1241.2 1502.1,1230.3 1503.3,1231.2C1504.5,1232.1 1507.6,1252.3 1509.2,1252.7C1510.8,1253.1 1514.4,1232.6 1516.4,1234.3C1518.4,1236.0 1523.5,1265.5 1525.6,1267.0C1527.7,1268.5 1532.0,1245.8 1533.8,1246.6C1535.6,1247.4 1539.3,1272.2 1541.0,1274.0C1542.7,1275.8 1546.5,1263.0 1548.0,1262.0C1549.5,1261.0 1551.9,1266.5 1553.3,1266.0C1554.7,1265.5 1558.5,1257.8 1560.0,1258.0C1561.5,1258.2 1564.7,1267.5 1566.0,1268.0C1567.3,1268.5 1569.6,1263.1 1571.0,1262.0C1572.4,1260.9 1576.3,1258.3 1577.9,1258.9C1579.5,1259.5 1582.4,1270.2 1584.0,1267.0C1585.6,1263.8 1589.5,1233.4 1591.2,1232.2C1592.9,1231.0 1596.3,1253.6 1598.4,1256.8C1600.5,1260.0 1606.0,1259.9 1608.7,1258.9C1611.4,1257.9 1619.0,1248.9 1621.0,1248.6C1623.0,1248.3 1623.9,1256.8 1625.1,1256.8C1626.3,1256.8 1629.5,1247.1 1631.2,1248.6C1632.9,1250.1 1637.9,1268.1 1639.4,1269.1C1640.9,1270.1 1642.3,1261.5 1643.5,1256.8C1644.7,1252.1 1648.5,1231.9 1649.7,1230.2C1650.9,1228.5 1652.8,1245.5 1653.8,1242.5C1654.8,1239.5 1656.9,1214.0 1657.9,1205.6C1658.9,1197.2 1661.0,1176.9 1662.0,1172.7C1663.0,1168.5 1665.2,1169.8 1666.1,1170.7C1667.0,1171.6 1668.1,1182.1 1669.2,1179.9C1670.3,1177.7 1674.1,1153.8 1675.3,1152.2C1676.5,1150.6 1678.5,1166.3 1679.4,1166.6C1680.3,1166.9 1682.5,1161.9 1683.1,1154.3C1683.7,1146.7 1684.1,1115.3 1684.5,1103.0C1684.9,1090.7 1685.6,1059.4 1686.6,1051.8C1687.6,1044.2 1691.8,1043.9 1692.7,1039.5C1693.6,1035.1 1693.9,1020.7 1694.5,1015.0C1695.1,1009.3 1697.2,992.9 1698.0,991.8C1698.8,990.7 1700.1,1010.7 1700.8,1005.5C1701.5,1000.3 1702.9,959.1 1703.5,948.1C1704.1,937.1 1704.9,914.9 1705.7,913.9C1706.5,912.9 1708.7,937.1 1709.8,939.9C1710.9,942.7 1713.3,933.3 1714.5,937.2C1715.7,941.1 1718.8,970.4 1719.9,972.7C1721.0,975.0 1723.3,953.7 1724.0,956.3C1724.7,958.9 1724.7,997.2 1725.4,994.6C1726.1,992.0 1728.6,950.8 1729.5,934.4C1730.4,918.0 1732.0,859.5 1732.8,857.9C1733.6,856.3 1735.5,906.7 1736.3,920.8C1737.1,934.9 1738.5,955.7 1739.1,975.4C1739.7,995.1 1740.3,1074.4 1740.9,1084.6C1741.5,1094.8 1743.4,1065.2 1744.0,1060.0C1744.6,1054.8 1745.5,1041.3 1746.1,1041.5C1746.7,1041.7 1748.5,1064.5 1749.1,1062.0C1749.7,1059.5 1750.8,1031.4 1751.2,1021.0C1751.6,1010.6 1752.4,986.1 1752.7,975.4C1753.0,964.7 1753.6,933.3 1754.1,931.7C1754.6,930.1 1756.2,943.7 1756.8,961.8C1757.4,979.9 1758.7,1059.4 1759.4,1082.5C1760.1,1105.6 1761.8,1154.3 1762.5,1154.3C1763.2,1154.3 1764.8,1097.3 1765.5,1082.5C1766.2,1067.7 1767.6,1028.8 1768.2,1031.3C1768.8,1033.8 1770.0,1087.0 1770.7,1103.0C1771.4,1119.0 1773.0,1164.5 1773.7,1164.5C1774.4,1164.5 1776.1,1120.2 1776.8,1103.0C1777.5,1085.8 1779.2,1033.8 1779.9,1021.0C1780.6,1008.2 1782.2,999.6 1783.0,996.4C1783.8,993.2 1786.0,994.3 1786.4,994.0" stroke="#ff0000" stroke-width="6.3"/>
<path d="M258.2,1263.3C259.2,1263.8 264.1,1267.7 266.4,1267.4C268.7,1267.1 274.6,1260.8 277.0,1260.9C279.4,1261.0 282.9,1268.0 286.1,1268.2C289.3,1268.4 300.2,1262.6 303.4,1262.5C306.6,1262.4 309.9,1267.2 312.4,1267.4C314.9,1267.6 319.8,1264.0 323.9,1264.1C328.0,1264.2 342.9,1269.5 346.9,1268.2C350.9,1266.9 355.0,1253.6 357.6,1253.5C360.2,1253.4 365.9,1266.4 368.2,1267.4C370.5,1268.4 373.8,1261.8 376.4,1261.7C379.0,1261.6 387.0,1266.5 389.6,1266.6C392.2,1266.7 393.3,1263.0 397.8,1262.5C402.3,1262.0 422.7,1263.5 427.3,1262.5C431.9,1261.5 434.0,1253.8 436.4,1254.3C438.8,1254.8 444.0,1266.0 447.0,1266.6C450.0,1267.2 459.0,1259.9 461.8,1259.2C464.6,1258.5 467.8,1261.9 470.0,1260.9C472.2,1259.9 477.5,1251.9 479.9,1251.0C482.3,1250.1 487.1,1254.5 489.7,1253.5C492.3,1252.5 498.3,1242.7 501.2,1242.8C504.1,1242.9 510.7,1254.8 513.5,1254.3C516.3,1253.8 521.5,1238.7 524.2,1238.7C526.9,1238.7 532.7,1253.2 535.7,1254.3C538.7,1255.4 545.9,1250.0 548.8,1247.5C551.7,1245.0 557.2,1234.1 559.7,1233.3C562.2,1232.5 567.4,1240.9 569.6,1240.9C571.8,1240.9 575.9,1233.3 578.3,1233.3C580.7,1233.3 587.3,1241.6 589.3,1240.9C591.3,1240.2 592.6,1229.0 594.7,1227.8C596.8,1226.6 604.7,1231.6 606.8,1231.1C608.9,1230.6 610.8,1223.9 612.2,1223.4C613.6,1222.9 616.2,1227.4 618.8,1226.7C621.4,1226.0 631.3,1220.5 634.1,1217.9C636.9,1215.3 640.0,1206.0 641.8,1204.8C643.6,1203.6 647.4,1208.0 649.5,1208.1C651.6,1208.2 656.7,1207.5 659.3,1205.9C661.9,1204.3 669.3,1195.7 671.4,1194.9C673.5,1194.1 675.6,1199.2 676.8,1199.3C678.0,1199.4 679.6,1195.5 681.2,1196.0C682.8,1196.5 687.8,1204.1 690.0,1203.7C692.2,1203.3 697.7,1194.0 699.8,1192.8C701.9,1191.6 705.9,1194.2 707.5,1193.8C709.1,1193.4 709.2,1191.3 713.0,1189.5C716.8,1187.7 734.6,1178.8 739.2,1178.5C743.8,1178.2 749.2,1186.6 751.3,1187.3C753.4,1188.0 755.0,1183.3 756.7,1184.0C758.4,1184.7 763.4,1193.2 765.5,1192.8C767.6,1192.4 771.9,1180.7 774.3,1180.7C776.7,1180.7 782.3,1192.7 785.2,1192.8C788.1,1192.9 795.8,1183.2 798.3,1181.8C800.8,1180.4 803.9,1181.9 806.0,1181.2C808.1,1180.5 813.7,1174.3 815.9,1175.9C818.1,1177.5 822.5,1193.7 824.6,1194.9C826.7,1196.1 831.4,1186.7 833.4,1186.2C835.4,1185.7 839.2,1190.3 841.0,1190.6C842.8,1190.9 846.6,1187.8 848.7,1188.4C850.8,1189.0 856.2,1196.7 858.6,1196.0C861.0,1195.3 866.0,1183.7 868.4,1182.9C870.8,1182.1 876.3,1189.0 878.3,1189.5C880.3,1190.0 882.7,1185.7 884.8,1187.3C886.9,1188.9 893.8,1200.8 895.8,1202.6C897.8,1204.4 899.9,1202.0 901.3,1202.6C902.7,1203.2 905.9,1208.3 907.7,1207.7C909.5,1207.1 914.4,1197.9 916.4,1197.8C918.4,1197.7 922.4,1205.7 924.1,1206.6C925.8,1207.5 929.0,1204.6 930.7,1205.5C932.4,1206.4 936.5,1214.2 938.3,1214.3C940.1,1214.4 943.8,1205.8 946.0,1206.6C948.2,1207.4 954.0,1220.5 956.9,1220.8C959.8,1221.1 966.5,1208.1 970.1,1208.8C973.7,1209.5 983.6,1224.9 986.5,1226.3C989.4,1227.7 992.4,1223.0 994.1,1220.8C995.8,1218.6 998.6,1206.1 1000.7,1207.7C1002.8,1209.3 1009.5,1232.2 1011.7,1234.0C1013.9,1235.8 1016.9,1224.5 1019.3,1223.0C1021.7,1221.5 1029.0,1221.4 1031.4,1221.9C1033.8,1222.4 1037.4,1227.1 1039.0,1227.4C1040.6,1227.7 1042.7,1223.6 1044.5,1224.1C1046.3,1224.6 1052.3,1231.1 1054.4,1231.8C1056.5,1232.5 1060.3,1229.1 1062.0,1229.6C1063.7,1230.1 1067.0,1235.5 1068.6,1236.2C1070.2,1236.9 1073.2,1233.7 1075.2,1235.1C1077.2,1236.5 1082.6,1248.1 1085.0,1248.2C1087.4,1248.3 1092.8,1238.0 1094.9,1236.2C1097.0,1234.4 1100.8,1235.0 1102.5,1232.9C1104.2,1230.8 1107.4,1219.0 1109.1,1218.6C1110.8,1218.2 1114.6,1228.4 1116.7,1229.6C1118.8,1230.8 1123.8,1226.0 1126.6,1228.5C1129.4,1231.0 1137.2,1248.4 1139.7,1250.4C1142.2,1252.4 1145.6,1244.6 1147.4,1244.9C1149.2,1245.2 1152.5,1253.6 1155.1,1252.6C1157.7,1251.6 1165.8,1236.1 1169.3,1236.2C1172.8,1236.3 1181.7,1251.9 1184.6,1253.7C1187.5,1255.5 1191.3,1253.3 1193.4,1251.5C1195.5,1249.7 1199.5,1237.3 1202.1,1238.3C1204.7,1239.3 1212.4,1261.0 1215.3,1260.2C1218.2,1259.4 1223.7,1231.7 1226.2,1231.8C1228.7,1231.9 1234.0,1258.9 1236.1,1261.3C1238.2,1263.7 1242.0,1252.3 1243.7,1251.5C1245.4,1250.7 1248.7,1255.1 1250.3,1254.8C1251.9,1254.5 1255.2,1247.9 1257.4,1248.6C1259.6,1249.3 1266.1,1261.1 1268.7,1260.9C1271.3,1260.7 1276.8,1247.5 1279.0,1246.6C1281.2,1245.7 1285.2,1254.2 1287.2,1253.7C1289.2,1253.2 1293.8,1247.0 1295.4,1242.5C1297.0,1238.0 1299.3,1224.2 1300.5,1215.8C1301.7,1207.4 1304.5,1178.4 1305.6,1172.7C1306.7,1167.0 1308.3,1165.9 1309.7,1168.6C1311.1,1171.3 1315.4,1195.8 1316.9,1195.3C1318.4,1194.8 1320.9,1175.6 1322.0,1164.5C1323.1,1153.4 1325.1,1114.8 1326.1,1103.0C1327.1,1091.2 1329.2,1068.1 1330.2,1066.1C1331.2,1064.1 1333.1,1077.3 1334.3,1086.6C1335.5,1095.9 1338.8,1134.2 1340.5,1144.0C1342.2,1153.8 1346.7,1167.4 1348.7,1168.6C1350.7,1169.8 1354.6,1158.1 1356.9,1154.3C1359.2,1150.5 1365.4,1136.5 1368.2,1136.9C1371.0,1137.3 1378.2,1155.2 1380.5,1157.4C1382.8,1159.6 1385.4,1154.8 1387.6,1155.3C1389.8,1155.8 1396.9,1158.4 1398.9,1161.5C1400.9,1164.6 1402.5,1174.4 1404.0,1180.9C1405.5,1187.4 1409.8,1210.6 1411.2,1215.8C1412.6,1221.0 1413.9,1219.8 1415.3,1224.0C1416.7,1228.2 1420.8,1246.0 1422.5,1250.7C1424.2,1255.4 1427.9,1264.0 1429.7,1263.0C1431.5,1262.0 1435.8,1244.0 1437.9,1242.5C1440.0,1241.0 1444.1,1250.8 1447.1,1250.7C1450.1,1250.6 1459.9,1238.5 1462.5,1241.4C1465.1,1244.3 1467.2,1271.0 1468.6,1275.0C1470.0,1279.0 1472.6,1277.7 1474.0,1275.0C1475.4,1272.3 1477.1,1257.3 1479.9,1252.7C1482.7,1248.1 1494.1,1234.2 1497.3,1236.3C1500.5,1238.4 1504.7,1269.2 1506.6,1270.0C1508.5,1270.8 1511.6,1244.3 1513.5,1243.0C1515.4,1241.7 1520.5,1255.7 1522.6,1258.9C1524.7,1262.1 1528.7,1268.7 1530.8,1270.0C1532.9,1271.3 1537.9,1274.3 1540.0,1270.0C1542.1,1265.7 1546.1,1236.4 1548.2,1234.3C1550.3,1232.2 1555.1,1250.1 1557.4,1252.7C1559.7,1255.3 1565.5,1254.3 1567.7,1255.8C1569.9,1257.3 1574.2,1264.9 1575.9,1265.0C1577.6,1265.1 1580.7,1260.5 1582.0,1256.8C1583.3,1253.1 1585.4,1235.3 1587.1,1234.3C1588.8,1233.3 1594.3,1249.8 1596.4,1248.6C1598.5,1247.4 1602.8,1221.2 1604.6,1224.0C1606.4,1226.8 1609.2,1266.2 1611.7,1272.0C1614.2,1277.8 1622.8,1273.8 1625.1,1272.0C1627.4,1270.2 1629.7,1257.4 1631.2,1256.8C1632.7,1256.2 1635.9,1268.8 1637.4,1267.1C1638.9,1265.4 1641.7,1249.4 1643.5,1242.5C1645.3,1235.6 1651.1,1210.4 1652.8,1209.7C1654.5,1209.0 1656.7,1229.9 1657.9,1236.3C1659.1,1242.7 1661.8,1261.3 1663.0,1263.0C1664.2,1264.7 1666.9,1258.8 1668.1,1250.7C1669.3,1242.6 1672.2,1203.8 1673.3,1195.3C1674.4,1186.8 1676.4,1177.4 1677.4,1179.9C1678.4,1182.4 1680.6,1203.8 1681.5,1215.8C1682.4,1227.8 1683.5,1272.3 1684.5,1280.0C1685.5,1287.7 1688.5,1292.6 1689.7,1280.0C1690.9,1267.4 1693.3,1193.6 1694.8,1174.8C1696.3,1156.0 1701.1,1124.2 1702.6,1123.5C1704.1,1122.8 1706.0,1158.0 1707.1,1168.6C1708.2,1179.2 1710.5,1217.1 1711.6,1211.7C1712.7,1206.3 1715.4,1142.9 1716.3,1123.5C1717.2,1104.1 1718.5,1059.0 1719.4,1049.7C1720.3,1040.4 1722.6,1048.7 1723.5,1045.6C1724.4,1042.5 1725.7,1022.1 1726.6,1024.1C1727.5,1026.1 1729.7,1047.6 1730.7,1062.0C1731.7,1076.4 1733.8,1116.6 1734.8,1144.0C1735.8,1171.4 1737.3,1272.5 1738.9,1290.0C1740.5,1307.5 1746.6,1302.6 1748.1,1290.0C1749.6,1277.4 1750.3,1201.5 1751.2,1185.0C1752.1,1168.5 1754.9,1149.7 1755.9,1152.2C1756.9,1154.7 1758.6,1189.1 1759.4,1205.6C1760.2,1222.1 1760.8,1279.9 1762.5,1290.0C1764.2,1300.1 1772.1,1294.6 1773.7,1290.0C1775.3,1285.4 1775.4,1256.7 1776.0,1252.0C1776.6,1247.3 1778.1,1261.2 1778.9,1250.7C1779.7,1240.2 1782.2,1187.1 1783.0,1164.5C1783.8,1141.9 1784.9,1082.7 1785.3,1062.0C1785.7,1041.3 1786.3,1001.1 1786.4,992.3C1786.5,983.5 1786.4,989.4 1786.4,989.0" stroke="#008000" stroke-width="6.3"/>
</g>
<g fill="none" stroke-width="6.3">
<path d="M302.5,97.5H451.4" stroke="#0000ff"/>
<path d="M302.5,176.7H451.4" stroke="#ff0000"/>
<path d="M302.5,255.5H451.4" stroke="#008000"/>
</g>
<g font-size="65.3px">
<text x="462.3" y="119.3">Nd1, 16 V</text>
<text x="462.3" y="198.3">Nd2, 16 V</text>
<text x="462.3" y="277.3">Nd3, 18V</text>
<text transform="translate(1525.2,208.8) scale(0.979,1)" font-size="65.2px">Type <tspan font-weight="bold">A</tspan></text>
</g>
<g font-size="53.5px" text-anchor="middle">
<text x="358.6" y="1351">400</text>
<text x="766.8" y="1351">600</text>
<text x="1175.0" y="1351">800</text>
<text x="1583.2" y="1351">1000</text>
</g>
<g font-size="52.8px" text-anchor="end">
<text transform="translate(216.3,167.1) scale(1,1.06)">1.0</text>
<text transform="translate(216.3,727.4) scale(1,1.06)">0.5</text>
<text transform="translate(216.3,1287.7) scale(1,1.06)">0.0</text>
</g>
<text transform="translate(827,1427.4) scale(0.955,1)" font-size="53.3px">Wavelength, nm</text>
<text transform="translate(78.8,875.2) rotate(-90)" font-size="65.3px">Intensity, arb. units</text>
<g stroke="#3a3a3a" stroke-width="2.5" fill="none">
<rect x="398.9" y="355.5" width="464.3" height="374.5" fill="#fff"/>
</g>
<g stroke="#505050" stroke-width="2.4" fill="none">
<path d="M407.6,730.0v7.0"/>
<path d="M407.6,355.5v7.0"/>
<path d="M453.2,730.0v4.0"/>
<path d="M453.2,355.5v4.0"/>
<path d="M498.7,730.0v7.0"/>
<path d="M498.7,355.5v7.0"/>
<path d="M544.3,730.0v4.0"/>
<path d="M544.3,355.5v4.0"/>
<path d="M589.8,730.0v7.0"/>
<path d="M589.8,355.5v7.0"/>
<path d="M635.4,730.0v4.0"/>
<path d="M635.4,355.5v4.0"/>
<path d="M681.0,730.0v7.0"/>
<path d="M681.0,355.5v7.0"/>
<path d="M726.5,730.0v4.0"/>
<path d="M726.5,355.5v4.0"/>
<path d="M772.1,730.0v7.0"/>
<path d="M772.1,355.5v7.0"/>
<path d="M817.6,730.0v4.0"/>
<path d="M817.6,355.5v4.0"/>
<path d="M863.2,730.0v7.0"/>
<path d="M863.2,355.5v7.0"/>
<path d="M398.9,355.5h-8.0"/>
<path d="M863.2,355.5h-8.0"/>
<path d="M398.9,427.5h-5.0"/>
<path d="M863.2,427.5h-5.0"/>
<path d="M398.9,499.5h-8.0"/>
<path d="M863.2,499.5h-8.0"/>
<path d="M398.9,571.5h-5.0"/>
<path d="M863.2,571.5h-5.0"/>
<path d="M398.9,643.5h-8.0"/>
<path d="M863.2,643.5h-8.0"/>
<path d="M398.9,715.5h-5.0"/>
<path d="M863.2,715.5h-5.0"/>
</g>
<path d="M408.8,386.4L411.2,588.0L418.4,603.4L435.5,600.0L465.6,632.5L519.2,638.6L616.6,642.7L719.2,670.7L808.0,677.9L845.6,700.8" fill="none" stroke="#0000ff" stroke-width="5.0" stroke-linejoin="round" stroke-linecap="round"/>
<g font-weight="bold" font-size="30.4px" text-anchor="end">
<text transform="translate(387.5,365.3) scale(1,1.1)">0.015</text>
<text transform="translate(387.5,509.1) scale(1,1.1)">0.010</text>
<text transform="translate(387.5,653.2) scale(1,1.1)">0.005</text>
</g>
<g font-weight="bold" font-size="30.4px" text-anchor="middle">
<text transform="translate(407.6,766.8) scale(1,1.12)">0</text>
<text transform="translate(498.7,766.8) scale(1,1.12)">10</text>
<text transform="translate(589.8,766.8) scale(1,1.12)">20</text>
<text transform="translate(681.0,766.8) scale(1,1.12)">30</text>
<text transform="translate(772.1,766.8) scale(1,1.12)">40</text>
<text transform="translate(863.2,766.8) scale(1,1.12)">50</text>
</g>
<text transform="translate(517,803.7) scale(1,1.05)" font-weight="bold" font-size="23.5px">Radiant power, nWt</text>
<text transform="translate(311,580) rotate(-90) scale(1,1.08)" font-weight="bold" font-size="27.3px">EQE, %</text>
</g>
</svg></body></html>
